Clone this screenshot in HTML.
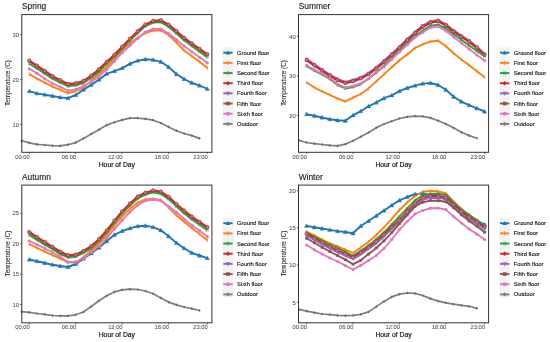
<!DOCTYPE html>
<html><head><meta charset="utf-8"><style>
html,body{margin:0;padding:0;background:#fff;}
svg{display:block;will-change:transform;}
text{font-family:"Liberation Sans",sans-serif;}
.tk{font-size:5.9px;fill:#4d4d4d;stroke:#4d4d4d;stroke-width:0.05px;}
.ax{font-size:6.8px;fill:#111;stroke:#111;stroke-width:0.18px;}
.ti{font-size:8.4px;fill:#111;stroke:#111;stroke-width:0.1px;}
.ay{font-size:7.5px;fill:#1a1a1a;stroke:#1a1a1a;stroke-width:0.05px;}
.lg{font-size:5.8px;fill:#1a1a1a;stroke:#1a1a1a;stroke-width:0.15px;}
</style></head><body>
<svg width="550" height="342" viewBox="0 0 550 342">
<rect width="550" height="342" fill="#fff"/>
<polyline points="29.30,91.20 37.04,93.40 44.78,94.70 52.52,96.00 60.26,97.40 68.00,98.20 75.74,95.00 83.48,89.60 91.22,84.90 98.96,79.70 106.70,73.80 114.44,71.20 122.18,68.10 129.92,63.80 137.66,60.70 145.40,59.30 153.14,59.80 160.88,61.80 168.62,67.00 176.36,74.00 184.10,79.00 191.84,82.80 199.58,85.50 207.32,88.90" fill="none" stroke="#1f77b4" stroke-width="1.9" stroke-linejoin="round"/>
<polyline points="29.30,74.10 37.04,78.70 44.78,82.60 52.52,86.60 60.26,89.80 68.00,93.10 75.74,91.00 83.48,87.60 91.22,80.60 98.96,73.80 106.70,67.20 114.44,59.00 122.18,50.30 129.92,43.50 137.66,37.50 145.40,33.00 153.14,30.50 160.88,30.50 168.62,35.00 176.36,42.50 184.10,50.60 191.84,56.20 199.58,61.70 207.32,68.10" fill="none" stroke="#ff7f0e" stroke-width="1.9" stroke-linejoin="round"/>
<polyline points="29.30,61.50 37.04,66.50 44.78,71.80 52.52,77.00 60.26,81.00 68.00,84.80 75.74,84.10 83.48,81.80 91.22,76.50 98.96,70.30 106.70,62.80 114.44,55.60 122.18,47.60 129.92,39.70 137.66,32.20 145.40,25.30 153.14,21.80 160.88,21.10 168.62,25.60 176.36,32.00 184.10,38.70 191.84,44.30 199.58,49.80 207.32,55.10" fill="none" stroke="#9467bd" stroke-width="1.9" stroke-linejoin="round"/>
<polyline points="29.30,61.00 37.04,66.00 44.78,71.30 52.52,76.50 60.26,80.50 68.00,84.30 75.74,83.60 83.48,81.30 91.22,76.00 98.96,69.80 106.70,62.30 114.44,55.10 122.18,47.10 129.92,39.20 137.66,31.70 145.40,24.80 153.14,21.30 160.88,20.60 168.62,25.10 176.36,31.50 184.10,38.20 191.84,43.80 199.58,49.30 207.32,54.60" fill="none" stroke="#8c564b" stroke-width="1.9" stroke-linejoin="round"/>
<polyline points="29.30,63.70 37.04,68.55 44.78,73.70 52.52,78.75 60.26,82.60 68.00,86.25 75.74,85.40 83.48,83.05 91.22,77.70 98.96,71.45 106.70,63.90 114.44,56.65 122.18,48.60 129.92,40.65 137.66,33.10 145.40,26.15 153.14,22.60 160.88,22.10 168.62,26.80 176.36,33.40 184.10,40.30 191.84,46.10 199.58,51.80 207.32,57.30" fill="none" stroke="#2ca02c" stroke-width="1.9" stroke-linejoin="round"/>
<polyline points="29.30,60.50 37.04,65.50 44.78,70.80 52.52,76.00 60.26,80.00 68.00,83.80 75.74,83.10 83.48,80.80 91.22,75.50 98.96,69.30 106.70,61.80 114.44,54.60 122.18,46.60 129.92,38.70 137.66,31.20 145.40,24.30 153.14,20.80 160.88,20.10 168.62,24.60 176.36,31.00 184.10,37.70 191.84,43.30 199.58,48.80 207.32,54.10" fill="none" stroke="#d62728" stroke-width="1.9" stroke-linejoin="round"/>
<polyline points="29.30,68.80 37.04,73.40 44.78,78.70 52.52,83.30 60.26,86.80 68.00,90.60 75.74,89.40 83.48,86.20 91.22,82.00 98.96,76.40 106.70,69.50 114.44,61.20 122.18,52.70 129.92,45.60 137.66,38.40 145.40,32.00 153.14,29.00 160.88,29.00 168.62,33.50 176.36,39.70 184.10,46.00 191.84,51.80 199.58,57.30 207.32,62.80" fill="none" stroke="#e377c2" stroke-width="1.9" stroke-linejoin="round"/>
<polyline points="21.55,140.80 29.29,142.90 37.03,144.30 44.77,145.00 52.51,145.70 60.25,145.90 67.99,144.70 75.73,142.60 83.47,138.40 91.21,133.90 98.95,129.70 106.69,125.10 114.43,122.30 122.17,119.90 129.91,118.20 137.65,118.20 145.39,118.80 153.13,120.20 160.87,123.00 168.61,126.90 176.35,130.70 184.09,133.50 191.83,135.60 199.57,138.40" fill="none" stroke="#7f7f7f" stroke-width="1.7" stroke-linejoin="round"/>
<path d="M29.30,89.00L31.50,92.85L27.10,92.85Z" fill="#1f77b4" stroke="#1f77b4" stroke-width="0.3"/>
<path d="M37.04,91.20L39.24,95.05L34.84,95.05Z" fill="#1f77b4" stroke="#1f77b4" stroke-width="0.3"/>
<path d="M44.78,92.50L46.98,96.35L42.58,96.35Z" fill="#1f77b4" stroke="#1f77b4" stroke-width="0.3"/>
<path d="M52.52,93.80L54.72,97.65L50.32,97.65Z" fill="#1f77b4" stroke="#1f77b4" stroke-width="0.3"/>
<path d="M60.26,95.20L62.46,99.05L58.06,99.05Z" fill="#1f77b4" stroke="#1f77b4" stroke-width="0.3"/>
<path d="M68.00,96.00L70.20,99.85L65.80,99.85Z" fill="#1f77b4" stroke="#1f77b4" stroke-width="0.3"/>
<path d="M75.74,92.80L77.94,96.65L73.54,96.65Z" fill="#1f77b4" stroke="#1f77b4" stroke-width="0.3"/>
<path d="M83.48,87.40L85.68,91.25L81.28,91.25Z" fill="#1f77b4" stroke="#1f77b4" stroke-width="0.3"/>
<path d="M91.22,82.70L93.42,86.55L89.02,86.55Z" fill="#1f77b4" stroke="#1f77b4" stroke-width="0.3"/>
<path d="M98.96,77.50L101.16,81.35L96.76,81.35Z" fill="#1f77b4" stroke="#1f77b4" stroke-width="0.3"/>
<path d="M106.70,71.60L108.90,75.45L104.50,75.45Z" fill="#1f77b4" stroke="#1f77b4" stroke-width="0.3"/>
<path d="M114.44,69.00L116.64,72.85L112.24,72.85Z" fill="#1f77b4" stroke="#1f77b4" stroke-width="0.3"/>
<path d="M122.18,65.90L124.38,69.75L119.98,69.75Z" fill="#1f77b4" stroke="#1f77b4" stroke-width="0.3"/>
<path d="M129.92,61.60L132.12,65.45L127.72,65.45Z" fill="#1f77b4" stroke="#1f77b4" stroke-width="0.3"/>
<path d="M137.66,58.50L139.86,62.35L135.46,62.35Z" fill="#1f77b4" stroke="#1f77b4" stroke-width="0.3"/>
<path d="M145.40,57.10L147.60,60.95L143.20,60.95Z" fill="#1f77b4" stroke="#1f77b4" stroke-width="0.3"/>
<path d="M153.14,57.60L155.34,61.45L150.94,61.45Z" fill="#1f77b4" stroke="#1f77b4" stroke-width="0.3"/>
<path d="M160.88,59.60L163.08,63.45L158.68,63.45Z" fill="#1f77b4" stroke="#1f77b4" stroke-width="0.3"/>
<path d="M168.62,64.80L170.82,68.65L166.42,68.65Z" fill="#1f77b4" stroke="#1f77b4" stroke-width="0.3"/>
<path d="M176.36,71.80L178.56,75.65L174.16,75.65Z" fill="#1f77b4" stroke="#1f77b4" stroke-width="0.3"/>
<path d="M184.10,76.80L186.30,80.65L181.90,80.65Z" fill="#1f77b4" stroke="#1f77b4" stroke-width="0.3"/>
<path d="M191.84,80.60L194.04,84.45L189.64,84.45Z" fill="#1f77b4" stroke="#1f77b4" stroke-width="0.3"/>
<path d="M199.58,83.30L201.78,87.15L197.38,87.15Z" fill="#1f77b4" stroke="#1f77b4" stroke-width="0.3"/>
<path d="M207.32,86.70L209.52,90.55L205.12,90.55Z" fill="#1f77b4" stroke="#1f77b4" stroke-width="0.3"/>
<path d="M29.30,72.40V75.80" stroke="#ff7f0e" stroke-width="0.8"/>
<path d="M37.04,77.00V80.40" stroke="#ff7f0e" stroke-width="0.8"/>
<path d="M44.78,80.90V84.30" stroke="#ff7f0e" stroke-width="0.8"/>
<path d="M52.52,84.90V88.30" stroke="#ff7f0e" stroke-width="0.8"/>
<path d="M60.26,88.10V91.50" stroke="#ff7f0e" stroke-width="0.8"/>
<path d="M68.00,91.40V94.80" stroke="#ff7f0e" stroke-width="0.8"/>
<path d="M75.74,89.30V92.70" stroke="#ff7f0e" stroke-width="0.8"/>
<path d="M83.48,85.90V89.30" stroke="#ff7f0e" stroke-width="0.8"/>
<path d="M91.22,78.90V82.30" stroke="#ff7f0e" stroke-width="0.8"/>
<path d="M98.96,72.10V75.50" stroke="#ff7f0e" stroke-width="0.8"/>
<path d="M106.70,65.50V68.90" stroke="#ff7f0e" stroke-width="0.8"/>
<path d="M114.44,57.30V60.70" stroke="#ff7f0e" stroke-width="0.8"/>
<path d="M122.18,48.60V52.00" stroke="#ff7f0e" stroke-width="0.8"/>
<path d="M129.92,41.80V45.20" stroke="#ff7f0e" stroke-width="0.8"/>
<path d="M137.66,35.80V39.20" stroke="#ff7f0e" stroke-width="0.8"/>
<path d="M145.40,31.30V34.70" stroke="#ff7f0e" stroke-width="0.8"/>
<path d="M153.14,28.80V32.20" stroke="#ff7f0e" stroke-width="0.8"/>
<path d="M160.88,28.80V32.20" stroke="#ff7f0e" stroke-width="0.8"/>
<path d="M168.62,33.30V36.70" stroke="#ff7f0e" stroke-width="0.8"/>
<path d="M176.36,40.80V44.20" stroke="#ff7f0e" stroke-width="0.8"/>
<path d="M184.10,48.90V52.30" stroke="#ff7f0e" stroke-width="0.8"/>
<path d="M191.84,54.50V57.90" stroke="#ff7f0e" stroke-width="0.8"/>
<path d="M199.58,60.00V63.40" stroke="#ff7f0e" stroke-width="0.8"/>
<path d="M207.32,66.40V69.80" stroke="#ff7f0e" stroke-width="0.8"/>
<path d="M27.50,60.24L31.10,60.24L29.30,63.30Z" fill="#9467bd"/>
<path d="M35.24,65.24L38.84,65.24L37.04,68.30Z" fill="#9467bd"/>
<path d="M42.98,70.54L46.58,70.54L44.78,73.60Z" fill="#9467bd"/>
<path d="M50.72,75.74L54.32,75.74L52.52,78.80Z" fill="#9467bd"/>
<path d="M58.46,79.74L62.06,79.74L60.26,82.80Z" fill="#9467bd"/>
<path d="M66.20,83.54L69.80,83.54L68.00,86.60Z" fill="#9467bd"/>
<path d="M73.94,82.84L77.54,82.84L75.74,85.90Z" fill="#9467bd"/>
<path d="M81.68,80.54L85.28,80.54L83.48,83.60Z" fill="#9467bd"/>
<path d="M89.42,75.24L93.02,75.24L91.22,78.30Z" fill="#9467bd"/>
<path d="M97.16,69.04L100.76,69.04L98.96,72.10Z" fill="#9467bd"/>
<path d="M104.90,61.54L108.50,61.54L106.70,64.60Z" fill="#9467bd"/>
<path d="M112.64,54.34L116.24,54.34L114.44,57.40Z" fill="#9467bd"/>
<path d="M120.38,46.34L123.98,46.34L122.18,49.40Z" fill="#9467bd"/>
<path d="M128.12,38.44L131.72,38.44L129.92,41.50Z" fill="#9467bd"/>
<path d="M135.86,30.94L139.46,30.94L137.66,34.00Z" fill="#9467bd"/>
<path d="M143.60,24.04L147.20,24.04L145.40,27.10Z" fill="#9467bd"/>
<path d="M151.34,20.54L154.94,20.54L153.14,23.60Z" fill="#9467bd"/>
<path d="M159.08,19.84L162.68,19.84L160.88,22.90Z" fill="#9467bd"/>
<path d="M166.82,24.34L170.42,24.34L168.62,27.40Z" fill="#9467bd"/>
<path d="M174.56,30.74L178.16,30.74L176.36,33.80Z" fill="#9467bd"/>
<path d="M182.30,37.44L185.90,37.44L184.10,40.50Z" fill="#9467bd"/>
<path d="M190.04,43.04L193.64,43.04L191.84,46.10Z" fill="#9467bd"/>
<path d="M197.78,48.54L201.38,48.54L199.58,51.60Z" fill="#9467bd"/>
<path d="M205.52,53.84L209.12,53.84L207.32,56.90Z" fill="#9467bd"/>
<rect x="27.90" y="59.60" width="2.8" height="2.8" fill="#8c564b"/>
<rect x="35.64" y="64.60" width="2.8" height="2.8" fill="#8c564b"/>
<rect x="43.38" y="69.90" width="2.8" height="2.8" fill="#8c564b"/>
<rect x="51.12" y="75.10" width="2.8" height="2.8" fill="#8c564b"/>
<rect x="58.86" y="79.10" width="2.8" height="2.8" fill="#8c564b"/>
<rect x="66.60" y="82.90" width="2.8" height="2.8" fill="#8c564b"/>
<rect x="74.34" y="82.20" width="2.8" height="2.8" fill="#8c564b"/>
<rect x="82.08" y="79.90" width="2.8" height="2.8" fill="#8c564b"/>
<rect x="89.82" y="74.60" width="2.8" height="2.8" fill="#8c564b"/>
<rect x="97.56" y="68.40" width="2.8" height="2.8" fill="#8c564b"/>
<rect x="105.30" y="60.90" width="2.8" height="2.8" fill="#8c564b"/>
<rect x="113.04" y="53.70" width="2.8" height="2.8" fill="#8c564b"/>
<rect x="120.78" y="45.70" width="2.8" height="2.8" fill="#8c564b"/>
<rect x="128.52" y="37.80" width="2.8" height="2.8" fill="#8c564b"/>
<rect x="136.26" y="30.30" width="2.8" height="2.8" fill="#8c564b"/>
<rect x="144.00" y="23.40" width="2.8" height="2.8" fill="#8c564b"/>
<rect x="151.74" y="19.90" width="2.8" height="2.8" fill="#8c564b"/>
<rect x="159.48" y="19.20" width="2.8" height="2.8" fill="#8c564b"/>
<rect x="167.22" y="23.70" width="2.8" height="2.8" fill="#8c564b"/>
<rect x="174.96" y="30.10" width="2.8" height="2.8" fill="#8c564b"/>
<rect x="182.70" y="36.80" width="2.8" height="2.8" fill="#8c564b"/>
<rect x="190.44" y="42.40" width="2.8" height="2.8" fill="#8c564b"/>
<rect x="198.18" y="47.90" width="2.8" height="2.8" fill="#8c564b"/>
<rect x="205.92" y="53.20" width="2.8" height="2.8" fill="#8c564b"/>
<path d="M28.50,62.10V65.30M30.10,62.10V65.30" stroke="#2ca02c" stroke-width="0.6"/>
<path d="M36.24,66.95V70.15M37.84,66.95V70.15" stroke="#2ca02c" stroke-width="0.6"/>
<path d="M43.98,72.10V75.30M45.58,72.10V75.30" stroke="#2ca02c" stroke-width="0.6"/>
<path d="M51.72,77.15V80.35M53.32,77.15V80.35" stroke="#2ca02c" stroke-width="0.6"/>
<path d="M59.46,81.00V84.20M61.06,81.00V84.20" stroke="#2ca02c" stroke-width="0.6"/>
<path d="M67.20,84.65V87.85M68.80,84.65V87.85" stroke="#2ca02c" stroke-width="0.6"/>
<path d="M74.94,83.80V87.00M76.54,83.80V87.00" stroke="#2ca02c" stroke-width="0.6"/>
<path d="M82.68,81.45V84.65M84.28,81.45V84.65" stroke="#2ca02c" stroke-width="0.6"/>
<path d="M90.42,76.10V79.30M92.02,76.10V79.30" stroke="#2ca02c" stroke-width="0.6"/>
<path d="M98.16,69.85V73.05M99.76,69.85V73.05" stroke="#2ca02c" stroke-width="0.6"/>
<path d="M105.90,62.30V65.50M107.50,62.30V65.50" stroke="#2ca02c" stroke-width="0.6"/>
<path d="M113.64,55.05V58.25M115.24,55.05V58.25" stroke="#2ca02c" stroke-width="0.6"/>
<path d="M121.38,47.00V50.20M122.98,47.00V50.20" stroke="#2ca02c" stroke-width="0.6"/>
<path d="M129.12,39.05V42.25M130.72,39.05V42.25" stroke="#2ca02c" stroke-width="0.6"/>
<path d="M136.86,31.50V34.70M138.46,31.50V34.70" stroke="#2ca02c" stroke-width="0.6"/>
<path d="M144.60,24.55V27.75M146.20,24.55V27.75" stroke="#2ca02c" stroke-width="0.6"/>
<path d="M152.34,21.00V24.20M153.94,21.00V24.20" stroke="#2ca02c" stroke-width="0.6"/>
<path d="M160.08,20.50V23.70M161.68,20.50V23.70" stroke="#2ca02c" stroke-width="0.6"/>
<path d="M167.82,25.20V28.40M169.42,25.20V28.40" stroke="#2ca02c" stroke-width="0.6"/>
<path d="M175.56,31.80V35.00M177.16,31.80V35.00" stroke="#2ca02c" stroke-width="0.6"/>
<path d="M183.30,38.70V41.90M184.90,38.70V41.90" stroke="#2ca02c" stroke-width="0.6"/>
<path d="M191.04,44.50V47.70M192.64,44.50V47.70" stroke="#2ca02c" stroke-width="0.6"/>
<path d="M198.78,50.20V53.40M200.38,50.20V53.40" stroke="#2ca02c" stroke-width="0.6"/>
<path d="M206.52,55.70V58.90M208.12,55.70V58.90" stroke="#2ca02c" stroke-width="0.6"/>
<circle cx="29.30" cy="60.50" r="1.6" fill="#cf7a8c" stroke="#a8303c" stroke-width="0.8"/>
<circle cx="37.04" cy="65.50" r="1.6" fill="#cf7a8c" stroke="#a8303c" stroke-width="0.8"/>
<circle cx="44.78" cy="70.80" r="1.6" fill="#cf7a8c" stroke="#a8303c" stroke-width="0.8"/>
<circle cx="52.52" cy="76.00" r="1.6" fill="#cf7a8c" stroke="#a8303c" stroke-width="0.8"/>
<circle cx="60.26" cy="80.00" r="1.6" fill="#cf7a8c" stroke="#a8303c" stroke-width="0.8"/>
<circle cx="68.00" cy="83.80" r="1.6" fill="#cf7a8c" stroke="#a8303c" stroke-width="0.8"/>
<circle cx="75.74" cy="83.10" r="1.6" fill="#cf7a8c" stroke="#a8303c" stroke-width="0.8"/>
<circle cx="83.48" cy="80.80" r="1.6" fill="#cf7a8c" stroke="#a8303c" stroke-width="0.8"/>
<circle cx="91.22" cy="75.50" r="1.6" fill="#cf7a8c" stroke="#a8303c" stroke-width="0.8"/>
<circle cx="98.96" cy="69.30" r="1.6" fill="#cf7a8c" stroke="#a8303c" stroke-width="0.8"/>
<circle cx="106.70" cy="61.80" r="1.6" fill="#cf7a8c" stroke="#a8303c" stroke-width="0.8"/>
<circle cx="114.44" cy="54.60" r="1.6" fill="#cf7a8c" stroke="#a8303c" stroke-width="0.8"/>
<circle cx="122.18" cy="46.60" r="1.6" fill="#cf7a8c" stroke="#a8303c" stroke-width="0.8"/>
<circle cx="129.92" cy="38.70" r="1.6" fill="#cf7a8c" stroke="#a8303c" stroke-width="0.8"/>
<circle cx="137.66" cy="31.20" r="1.6" fill="#cf7a8c" stroke="#a8303c" stroke-width="0.8"/>
<circle cx="145.40" cy="24.30" r="1.6" fill="#cf7a8c" stroke="#a8303c" stroke-width="0.8"/>
<circle cx="153.14" cy="20.80" r="1.6" fill="#cf7a8c" stroke="#a8303c" stroke-width="0.8"/>
<circle cx="160.88" cy="20.10" r="1.6" fill="#cf7a8c" stroke="#a8303c" stroke-width="0.8"/>
<circle cx="168.62" cy="24.60" r="1.6" fill="#cf7a8c" stroke="#a8303c" stroke-width="0.8"/>
<circle cx="176.36" cy="31.00" r="1.6" fill="#cf7a8c" stroke="#a8303c" stroke-width="0.8"/>
<circle cx="184.10" cy="37.70" r="1.6" fill="#cf7a8c" stroke="#a8303c" stroke-width="0.8"/>
<circle cx="191.84" cy="43.30" r="1.6" fill="#cf7a8c" stroke="#a8303c" stroke-width="0.8"/>
<circle cx="199.58" cy="48.80" r="1.6" fill="#cf7a8c" stroke="#a8303c" stroke-width="0.8"/>
<circle cx="207.32" cy="54.10" r="1.6" fill="#cf7a8c" stroke="#a8303c" stroke-width="0.8"/>
<circle cx="29.30" cy="68.80" r="1.6" fill="#e377c2"/>
<circle cx="37.04" cy="73.40" r="1.6" fill="#e377c2"/>
<circle cx="44.78" cy="78.70" r="1.6" fill="#e377c2"/>
<circle cx="52.52" cy="83.30" r="1.6" fill="#e377c2"/>
<circle cx="60.26" cy="86.80" r="1.6" fill="#e377c2"/>
<circle cx="68.00" cy="90.60" r="1.6" fill="#e377c2"/>
<circle cx="75.74" cy="89.40" r="1.6" fill="#e377c2"/>
<circle cx="83.48" cy="86.20" r="1.6" fill="#e377c2"/>
<circle cx="91.22" cy="82.00" r="1.6" fill="#e377c2"/>
<circle cx="98.96" cy="76.40" r="1.6" fill="#e377c2"/>
<circle cx="106.70" cy="69.50" r="1.6" fill="#e377c2"/>
<circle cx="114.44" cy="61.20" r="1.6" fill="#e377c2"/>
<circle cx="122.18" cy="52.70" r="1.6" fill="#e377c2"/>
<circle cx="129.92" cy="45.60" r="1.6" fill="#e377c2"/>
<circle cx="137.66" cy="38.40" r="1.6" fill="#e377c2"/>
<circle cx="145.40" cy="32.00" r="1.6" fill="#e377c2"/>
<circle cx="153.14" cy="29.00" r="1.6" fill="#e377c2"/>
<circle cx="160.88" cy="29.00" r="1.6" fill="#e377c2"/>
<circle cx="168.62" cy="33.50" r="1.6" fill="#e377c2"/>
<circle cx="176.36" cy="39.70" r="1.6" fill="#e377c2"/>
<circle cx="184.10" cy="46.00" r="1.6" fill="#e377c2"/>
<circle cx="191.84" cy="51.80" r="1.6" fill="#e377c2"/>
<circle cx="199.58" cy="57.30" r="1.6" fill="#e377c2"/>
<circle cx="207.32" cy="62.80" r="1.6" fill="#e377c2"/>
<path d="M21.55,139.20L22.65,140.80L21.55,142.40L20.45,140.80Z" fill="#6a6a6a"/>
<path d="M29.29,141.30L30.39,142.90L29.29,144.50L28.19,142.90Z" fill="#6a6a6a"/>
<path d="M37.03,142.70L38.13,144.30L37.03,145.90L35.93,144.30Z" fill="#6a6a6a"/>
<path d="M44.77,143.40L45.87,145.00L44.77,146.60L43.67,145.00Z" fill="#6a6a6a"/>
<path d="M52.51,144.10L53.61,145.70L52.51,147.30L51.41,145.70Z" fill="#6a6a6a"/>
<path d="M60.25,144.30L61.35,145.90L60.25,147.50L59.15,145.90Z" fill="#6a6a6a"/>
<path d="M67.99,143.10L69.09,144.70L67.99,146.30L66.89,144.70Z" fill="#6a6a6a"/>
<path d="M75.73,141.00L76.83,142.60L75.73,144.20L74.63,142.60Z" fill="#6a6a6a"/>
<path d="M83.47,136.80L84.57,138.40L83.47,140.00L82.37,138.40Z" fill="#6a6a6a"/>
<path d="M91.21,132.30L92.31,133.90L91.21,135.50L90.11,133.90Z" fill="#6a6a6a"/>
<path d="M98.95,128.10L100.05,129.70L98.95,131.30L97.85,129.70Z" fill="#6a6a6a"/>
<path d="M106.69,123.50L107.79,125.10L106.69,126.70L105.59,125.10Z" fill="#6a6a6a"/>
<path d="M114.43,120.70L115.53,122.30L114.43,123.90L113.33,122.30Z" fill="#6a6a6a"/>
<path d="M122.17,118.30L123.27,119.90L122.17,121.50L121.07,119.90Z" fill="#6a6a6a"/>
<path d="M129.91,116.60L131.01,118.20L129.91,119.80L128.81,118.20Z" fill="#6a6a6a"/>
<path d="M137.65,116.60L138.75,118.20L137.65,119.80L136.55,118.20Z" fill="#6a6a6a"/>
<path d="M145.39,117.20L146.49,118.80L145.39,120.40L144.29,118.80Z" fill="#6a6a6a"/>
<path d="M153.13,118.60L154.23,120.20L153.13,121.80L152.03,120.20Z" fill="#6a6a6a"/>
<path d="M160.87,121.40L161.97,123.00L160.87,124.60L159.77,123.00Z" fill="#6a6a6a"/>
<path d="M168.61,125.30L169.71,126.90L168.61,128.50L167.51,126.90Z" fill="#6a6a6a"/>
<path d="M176.35,129.10L177.45,130.70L176.35,132.30L175.25,130.70Z" fill="#6a6a6a"/>
<path d="M184.09,131.90L185.19,133.50L184.09,135.10L182.99,133.50Z" fill="#6a6a6a"/>
<path d="M191.83,134.00L192.93,135.60L191.83,137.20L190.73,135.60Z" fill="#6a6a6a"/>
<path d="M199.57,136.80L200.67,138.40L199.57,140.00L198.47,138.40Z" fill="#6a6a6a"/>
<rect x="21.80" y="14.60" width="190.10" height="137.70" fill="none" stroke="#333" stroke-width="1"/>
<line x1="20.20" y1="124.30" x2="21.80" y2="124.30" stroke="#333" stroke-width="0.8"/>
<text x="19.10" y="126.50" text-anchor="end" class="tk">10</text>
<line x1="20.20" y1="79.40" x2="21.80" y2="79.40" stroke="#333" stroke-width="0.8"/>
<text x="19.10" y="81.60" text-anchor="end" class="tk">20</text>
<line x1="20.20" y1="34.30" x2="21.80" y2="34.30" stroke="#333" stroke-width="0.8"/>
<text x="19.10" y="36.50" text-anchor="end" class="tk">30</text>
<line x1="29.30" y1="152.30" x2="29.30" y2="153.90" stroke="#333" stroke-width="0.8"/>
<text x="22.50" y="158.90" text-anchor="middle" class="tk" style="font-size:5.75px">00:00</text>
<line x1="75.74" y1="152.30" x2="75.74" y2="153.90" stroke="#333" stroke-width="0.8"/>
<text x="68.94" y="158.90" text-anchor="middle" class="tk" style="font-size:5.75px">06:00</text>
<line x1="122.18" y1="152.30" x2="122.18" y2="153.90" stroke="#333" stroke-width="0.8"/>
<text x="115.38" y="158.90" text-anchor="middle" class="tk" style="font-size:5.75px">12:00</text>
<line x1="168.62" y1="152.30" x2="168.62" y2="153.90" stroke="#333" stroke-width="0.8"/>
<text x="161.82" y="158.90" text-anchor="middle" class="tk" style="font-size:5.75px">18:00</text>
<line x1="207.32" y1="152.30" x2="207.32" y2="153.90" stroke="#333" stroke-width="0.8"/>
<text x="200.52" y="158.90" text-anchor="middle" class="tk" style="font-size:5.75px">23:00</text>
<text x="116.85" y="166.80" text-anchor="middle" class="ax">Hour of Day</text>
<text transform="translate(9.50,83.00) rotate(-90)" text-anchor="middle" class="ay" textLength="45.5" lengthAdjust="spacingAndGlyphs">Temperature (C)</text>
<text x="22.00" y="9.10" class="ti">Spring</text>
<rect x="222.60" y="47.20" width="11" height="79.60" fill="#f2f2f2"/>
<line x1="223.30" y1="52.70" x2="232.60" y2="52.70" stroke="#1f77b4" stroke-width="1.9"/>
<path d="M228.00,50.40L230.30,54.43L225.70,54.43Z" fill="#1f77b4"/>
<text x="237.00" y="54.80" class="lg">Ground floor</text>
<line x1="223.30" y1="62.87" x2="232.60" y2="62.87" stroke="#ff7f0e" stroke-width="1.9"/>
<path d="M228.00,60.66V65.08" stroke="#ff7f0e" stroke-width="0.8"/>
<text x="237.00" y="64.97" class="lg">First floor</text>
<line x1="223.30" y1="73.04" x2="232.60" y2="73.04" stroke="#2ca02c" stroke-width="1.9"/>
<path d="M227.20,70.96V75.12M228.80,70.96V75.12" stroke="#2ca02c" stroke-width="0.6"/>
<text x="237.00" y="75.14" class="lg">Second floor</text>
<line x1="223.30" y1="83.21" x2="232.60" y2="83.21" stroke="#d62728" stroke-width="1.9"/>
<path d="M228.00,80.91L230.30,83.21L228.00,85.51L225.70,83.21Z" fill="#d62728"/>
<text x="237.00" y="85.31" class="lg">Third floor</text>
<line x1="223.30" y1="93.38" x2="232.60" y2="93.38" stroke="#9467bd" stroke-width="1.9"/>
<path d="M225.66,91.74L230.34,91.74L228.00,95.72Z" fill="#9467bd"/>
<text x="237.00" y="95.48" class="lg">Fourth floor</text>
<line x1="223.30" y1="103.55" x2="232.60" y2="103.55" stroke="#8c564b" stroke-width="1.9"/>
<rect x="226.18" y="101.73" width="3.6399999999999997" height="3.6399999999999997" fill="#8c564b"/>
<text x="237.00" y="105.65" class="lg">Fifth floor</text>
<line x1="223.30" y1="113.72" x2="232.60" y2="113.72" stroke="#e377c2" stroke-width="1.9"/>
<circle cx="228.00" cy="113.72" r="2.08" fill="#e377c2"/>
<text x="237.00" y="115.82" class="lg">Sixth floor</text>
<line x1="223.30" y1="123.89" x2="232.60" y2="123.89" stroke="#7f7f7f" stroke-width="1.9"/>
<path d="M228.00,121.79L230.10,123.89L228.00,125.99L225.90,123.89Z" fill="#7f7f7f"/>
<text x="237.00" y="125.99" class="lg">Outdoor</text>
<polyline points="306.60,114.20 314.34,115.80 322.08,117.50 329.82,119.20 337.56,120.30 345.30,120.80 353.04,115.30 360.78,111.20 368.52,106.30 376.26,102.50 384.00,98.20 391.74,95.40 399.48,91.20 407.22,88.00 414.96,85.60 422.70,83.60 430.44,83.00 438.18,85.00 445.92,89.80 453.66,96.80 461.40,101.60 469.14,105.20 476.88,108.30 484.62,111.50" fill="none" stroke="#1f77b4" stroke-width="1.9" stroke-linejoin="round"/>
<polyline points="306.60,82.50 314.34,87.50 322.08,91.30 329.82,94.90 337.56,98.60 345.30,101.40 353.04,97.60 360.78,94.00 368.52,88.40 376.26,81.40 384.00,74.40 391.74,67.30 399.48,60.30 407.22,54.50 414.96,48.00 422.70,44.30 430.44,41.50 438.18,40.70 445.92,46.30 453.66,53.30 461.40,59.50 469.14,65.30 476.88,71.20 484.62,77.30" fill="none" stroke="#ff7f0e" stroke-width="1.9" stroke-linejoin="round"/>
<polyline points="306.60,60.50 314.34,65.80 322.08,71.00 329.82,76.10 337.56,80.40 345.30,83.40 353.04,81.50 360.78,78.80 368.52,74.50 376.26,68.70 384.00,62.20 391.74,55.20 399.48,48.20 407.22,40.50 414.96,33.60 422.70,27.10 430.44,22.90 438.18,21.50 445.92,25.70 453.66,31.90 461.40,37.00 469.14,42.00 476.88,48.20 484.62,55.20" fill="none" stroke="#8c564b" stroke-width="1.9" stroke-linejoin="round"/>
<polyline points="306.60,59.00 314.34,64.30 322.08,69.50 329.82,74.60 337.56,78.90 345.30,81.90 353.04,80.00 360.78,77.30 368.52,73.00 376.26,67.20 384.00,60.70 391.74,53.70 399.48,46.70 407.22,39.00 414.96,32.10 422.70,25.60 430.44,21.40 438.18,20.00 445.92,24.20 453.66,30.40 461.40,35.50 469.14,40.50 476.88,46.70 484.62,53.70" fill="none" stroke="#9467bd" stroke-width="1.9" stroke-linejoin="round"/>
<polyline points="306.60,60.00 314.34,65.30 322.08,70.50 329.82,75.60 337.56,79.90 345.30,82.90 353.04,81.00 360.78,78.30 368.52,74.00 376.26,68.20 384.00,61.70 391.74,54.70 399.48,47.70 407.22,40.00 414.96,33.10 422.70,26.60 430.44,22.40 438.18,21.00 445.92,25.20 453.66,31.40 461.40,36.50 469.14,41.50 476.88,47.70 484.62,54.70" fill="none" stroke="#d62728" stroke-width="1.9" stroke-linejoin="round"/>
<polyline points="306.60,66.10 314.34,70.73 322.08,74.37 329.82,78.90 337.56,84.93 345.30,88.47 353.04,87.00 360.78,84.00 368.52,78.70 376.26,72.25 384.00,65.80 391.74,58.21 399.48,50.61 407.22,43.27 414.96,35.93 422.70,30.79 430.44,25.64 438.18,24.60 445.92,28.42 453.66,34.23 461.40,39.85 469.14,45.47 476.88,51.08 484.62,56.20" fill="none" stroke="#2ca02c" stroke-width="1.9" stroke-linejoin="round"/>
<polyline points="306.60,65.30 314.34,69.90 322.08,73.50 329.82,78.00 337.56,84.00 345.30,87.50 353.04,86.00 360.78,83.50 368.52,78.70 376.26,72.75 384.00,66.80 391.74,59.35 399.48,51.90 407.22,44.70 414.96,37.50 422.70,32.50 430.44,27.50 438.18,26.60 445.92,30.80 453.66,37.00 461.40,43.00 469.14,49.00 476.88,55.00 484.62,60.50" fill="none" stroke="#e377c2" stroke-width="1.9" stroke-linejoin="round"/>
<polyline points="298.90,140.30 306.64,142.50 314.38,143.70 322.12,144.50 329.86,145.30 337.60,145.80 345.34,144.20 353.08,140.80 360.82,136.70 368.56,132.50 376.30,127.70 384.04,124.00 391.78,121.20 399.52,118.50 407.26,116.80 415.00,116.10 422.74,116.40 430.48,117.90 438.22,120.70 445.96,124.00 453.70,127.90 461.44,132.30 469.18,135.60 476.92,138.20" fill="none" stroke="#7f7f7f" stroke-width="1.7" stroke-linejoin="round"/>
<path d="M306.60,112.00L308.80,115.85L304.40,115.85Z" fill="#1f77b4" stroke="#1f77b4" stroke-width="0.3"/>
<path d="M314.34,113.60L316.54,117.45L312.14,117.45Z" fill="#1f77b4" stroke="#1f77b4" stroke-width="0.3"/>
<path d="M322.08,115.30L324.28,119.15L319.88,119.15Z" fill="#1f77b4" stroke="#1f77b4" stroke-width="0.3"/>
<path d="M329.82,117.00L332.02,120.85L327.62,120.85Z" fill="#1f77b4" stroke="#1f77b4" stroke-width="0.3"/>
<path d="M337.56,118.10L339.76,121.95L335.36,121.95Z" fill="#1f77b4" stroke="#1f77b4" stroke-width="0.3"/>
<path d="M345.30,118.60L347.50,122.45L343.10,122.45Z" fill="#1f77b4" stroke="#1f77b4" stroke-width="0.3"/>
<path d="M353.04,113.10L355.24,116.95L350.84,116.95Z" fill="#1f77b4" stroke="#1f77b4" stroke-width="0.3"/>
<path d="M360.78,109.00L362.98,112.85L358.58,112.85Z" fill="#1f77b4" stroke="#1f77b4" stroke-width="0.3"/>
<path d="M368.52,104.10L370.72,107.95L366.32,107.95Z" fill="#1f77b4" stroke="#1f77b4" stroke-width="0.3"/>
<path d="M376.26,100.30L378.46,104.15L374.06,104.15Z" fill="#1f77b4" stroke="#1f77b4" stroke-width="0.3"/>
<path d="M384.00,96.00L386.20,99.85L381.80,99.85Z" fill="#1f77b4" stroke="#1f77b4" stroke-width="0.3"/>
<path d="M391.74,93.20L393.94,97.05L389.54,97.05Z" fill="#1f77b4" stroke="#1f77b4" stroke-width="0.3"/>
<path d="M399.48,89.00L401.68,92.85L397.28,92.85Z" fill="#1f77b4" stroke="#1f77b4" stroke-width="0.3"/>
<path d="M407.22,85.80L409.42,89.65L405.02,89.65Z" fill="#1f77b4" stroke="#1f77b4" stroke-width="0.3"/>
<path d="M414.96,83.40L417.16,87.25L412.76,87.25Z" fill="#1f77b4" stroke="#1f77b4" stroke-width="0.3"/>
<path d="M422.70,81.40L424.90,85.25L420.50,85.25Z" fill="#1f77b4" stroke="#1f77b4" stroke-width="0.3"/>
<path d="M430.44,80.80L432.64,84.65L428.24,84.65Z" fill="#1f77b4" stroke="#1f77b4" stroke-width="0.3"/>
<path d="M438.18,82.80L440.38,86.65L435.98,86.65Z" fill="#1f77b4" stroke="#1f77b4" stroke-width="0.3"/>
<path d="M445.92,87.60L448.12,91.45L443.72,91.45Z" fill="#1f77b4" stroke="#1f77b4" stroke-width="0.3"/>
<path d="M453.66,94.60L455.86,98.45L451.46,98.45Z" fill="#1f77b4" stroke="#1f77b4" stroke-width="0.3"/>
<path d="M461.40,99.40L463.60,103.25L459.20,103.25Z" fill="#1f77b4" stroke="#1f77b4" stroke-width="0.3"/>
<path d="M469.14,103.00L471.34,106.85L466.94,106.85Z" fill="#1f77b4" stroke="#1f77b4" stroke-width="0.3"/>
<path d="M476.88,106.10L479.08,109.95L474.68,109.95Z" fill="#1f77b4" stroke="#1f77b4" stroke-width="0.3"/>
<path d="M484.62,109.30L486.82,113.15L482.42,113.15Z" fill="#1f77b4" stroke="#1f77b4" stroke-width="0.3"/>
<path d="M306.60,80.80V84.20" stroke="#ff7f0e" stroke-width="0.8"/>
<path d="M314.34,85.80V89.20" stroke="#ff7f0e" stroke-width="0.8"/>
<path d="M322.08,89.60V93.00" stroke="#ff7f0e" stroke-width="0.8"/>
<path d="M329.82,93.20V96.60" stroke="#ff7f0e" stroke-width="0.8"/>
<path d="M337.56,96.90V100.30" stroke="#ff7f0e" stroke-width="0.8"/>
<path d="M345.30,99.70V103.10" stroke="#ff7f0e" stroke-width="0.8"/>
<path d="M353.04,95.90V99.30" stroke="#ff7f0e" stroke-width="0.8"/>
<path d="M360.78,92.30V95.70" stroke="#ff7f0e" stroke-width="0.8"/>
<path d="M368.52,86.70V90.10" stroke="#ff7f0e" stroke-width="0.8"/>
<path d="M376.26,79.70V83.10" stroke="#ff7f0e" stroke-width="0.8"/>
<path d="M384.00,72.70V76.10" stroke="#ff7f0e" stroke-width="0.8"/>
<path d="M391.74,65.60V69.00" stroke="#ff7f0e" stroke-width="0.8"/>
<path d="M399.48,58.60V62.00" stroke="#ff7f0e" stroke-width="0.8"/>
<path d="M407.22,52.80V56.20" stroke="#ff7f0e" stroke-width="0.8"/>
<path d="M414.96,46.30V49.70" stroke="#ff7f0e" stroke-width="0.8"/>
<path d="M422.70,42.60V46.00" stroke="#ff7f0e" stroke-width="0.8"/>
<path d="M430.44,39.80V43.20" stroke="#ff7f0e" stroke-width="0.8"/>
<path d="M438.18,39.00V42.40" stroke="#ff7f0e" stroke-width="0.8"/>
<path d="M445.92,44.60V48.00" stroke="#ff7f0e" stroke-width="0.8"/>
<path d="M453.66,51.60V55.00" stroke="#ff7f0e" stroke-width="0.8"/>
<path d="M461.40,57.80V61.20" stroke="#ff7f0e" stroke-width="0.8"/>
<path d="M469.14,63.60V67.00" stroke="#ff7f0e" stroke-width="0.8"/>
<path d="M476.88,69.50V72.90" stroke="#ff7f0e" stroke-width="0.8"/>
<path d="M484.62,75.60V79.00" stroke="#ff7f0e" stroke-width="0.8"/>
<rect x="305.20" y="59.10" width="2.8" height="2.8" fill="#8c564b"/>
<rect x="312.94" y="64.40" width="2.8" height="2.8" fill="#8c564b"/>
<rect x="320.68" y="69.60" width="2.8" height="2.8" fill="#8c564b"/>
<rect x="328.42" y="74.70" width="2.8" height="2.8" fill="#8c564b"/>
<rect x="336.16" y="79.00" width="2.8" height="2.8" fill="#8c564b"/>
<rect x="343.90" y="82.00" width="2.8" height="2.8" fill="#8c564b"/>
<rect x="351.64" y="80.10" width="2.8" height="2.8" fill="#8c564b"/>
<rect x="359.38" y="77.40" width="2.8" height="2.8" fill="#8c564b"/>
<rect x="367.12" y="73.10" width="2.8" height="2.8" fill="#8c564b"/>
<rect x="374.86" y="67.30" width="2.8" height="2.8" fill="#8c564b"/>
<rect x="382.60" y="60.80" width="2.8" height="2.8" fill="#8c564b"/>
<rect x="390.34" y="53.80" width="2.8" height="2.8" fill="#8c564b"/>
<rect x="398.08" y="46.80" width="2.8" height="2.8" fill="#8c564b"/>
<rect x="405.82" y="39.10" width="2.8" height="2.8" fill="#8c564b"/>
<rect x="413.56" y="32.20" width="2.8" height="2.8" fill="#8c564b"/>
<rect x="421.30" y="25.70" width="2.8" height="2.8" fill="#8c564b"/>
<rect x="429.04" y="21.50" width="2.8" height="2.8" fill="#8c564b"/>
<rect x="436.78" y="20.10" width="2.8" height="2.8" fill="#8c564b"/>
<rect x="444.52" y="24.30" width="2.8" height="2.8" fill="#8c564b"/>
<rect x="452.26" y="30.50" width="2.8" height="2.8" fill="#8c564b"/>
<rect x="460.00" y="35.60" width="2.8" height="2.8" fill="#8c564b"/>
<rect x="467.74" y="40.60" width="2.8" height="2.8" fill="#8c564b"/>
<rect x="475.48" y="46.80" width="2.8" height="2.8" fill="#8c564b"/>
<rect x="483.22" y="53.80" width="2.8" height="2.8" fill="#8c564b"/>
<path d="M304.80,57.74L308.40,57.74L306.60,60.80Z" fill="#9467bd"/>
<path d="M312.54,63.04L316.14,63.04L314.34,66.10Z" fill="#9467bd"/>
<path d="M320.28,68.24L323.88,68.24L322.08,71.30Z" fill="#9467bd"/>
<path d="M328.02,73.34L331.62,73.34L329.82,76.40Z" fill="#9467bd"/>
<path d="M335.76,77.64L339.36,77.64L337.56,80.70Z" fill="#9467bd"/>
<path d="M343.50,80.64L347.10,80.64L345.30,83.70Z" fill="#9467bd"/>
<path d="M351.24,78.74L354.84,78.74L353.04,81.80Z" fill="#9467bd"/>
<path d="M358.98,76.04L362.58,76.04L360.78,79.10Z" fill="#9467bd"/>
<path d="M366.72,71.74L370.32,71.74L368.52,74.80Z" fill="#9467bd"/>
<path d="M374.46,65.94L378.06,65.94L376.26,69.00Z" fill="#9467bd"/>
<path d="M382.20,59.44L385.80,59.44L384.00,62.50Z" fill="#9467bd"/>
<path d="M389.94,52.44L393.54,52.44L391.74,55.50Z" fill="#9467bd"/>
<path d="M397.68,45.44L401.28,45.44L399.48,48.50Z" fill="#9467bd"/>
<path d="M405.42,37.74L409.02,37.74L407.22,40.80Z" fill="#9467bd"/>
<path d="M413.16,30.84L416.76,30.84L414.96,33.90Z" fill="#9467bd"/>
<path d="M420.90,24.34L424.50,24.34L422.70,27.40Z" fill="#9467bd"/>
<path d="M428.64,20.14L432.24,20.14L430.44,23.20Z" fill="#9467bd"/>
<path d="M436.38,18.74L439.98,18.74L438.18,21.80Z" fill="#9467bd"/>
<path d="M444.12,22.94L447.72,22.94L445.92,26.00Z" fill="#9467bd"/>
<path d="M451.86,29.14L455.46,29.14L453.66,32.20Z" fill="#9467bd"/>
<path d="M459.60,34.24L463.20,34.24L461.40,37.30Z" fill="#9467bd"/>
<path d="M467.34,39.24L470.94,39.24L469.14,42.30Z" fill="#9467bd"/>
<path d="M475.08,45.44L478.68,45.44L476.88,48.50Z" fill="#9467bd"/>
<path d="M482.82,52.44L486.42,52.44L484.62,55.50Z" fill="#9467bd"/>
<circle cx="306.60" cy="60.00" r="1.6" fill="#cf7a8c" stroke="#a8303c" stroke-width="0.8"/>
<circle cx="314.34" cy="65.30" r="1.6" fill="#cf7a8c" stroke="#a8303c" stroke-width="0.8"/>
<circle cx="322.08" cy="70.50" r="1.6" fill="#cf7a8c" stroke="#a8303c" stroke-width="0.8"/>
<circle cx="329.82" cy="75.60" r="1.6" fill="#cf7a8c" stroke="#a8303c" stroke-width="0.8"/>
<circle cx="337.56" cy="79.90" r="1.6" fill="#cf7a8c" stroke="#a8303c" stroke-width="0.8"/>
<circle cx="345.30" cy="82.90" r="1.6" fill="#cf7a8c" stroke="#a8303c" stroke-width="0.8"/>
<circle cx="353.04" cy="81.00" r="1.6" fill="#cf7a8c" stroke="#a8303c" stroke-width="0.8"/>
<circle cx="360.78" cy="78.30" r="1.6" fill="#cf7a8c" stroke="#a8303c" stroke-width="0.8"/>
<circle cx="368.52" cy="74.00" r="1.6" fill="#cf7a8c" stroke="#a8303c" stroke-width="0.8"/>
<circle cx="376.26" cy="68.20" r="1.6" fill="#cf7a8c" stroke="#a8303c" stroke-width="0.8"/>
<circle cx="384.00" cy="61.70" r="1.6" fill="#cf7a8c" stroke="#a8303c" stroke-width="0.8"/>
<circle cx="391.74" cy="54.70" r="1.6" fill="#cf7a8c" stroke="#a8303c" stroke-width="0.8"/>
<circle cx="399.48" cy="47.70" r="1.6" fill="#cf7a8c" stroke="#a8303c" stroke-width="0.8"/>
<circle cx="407.22" cy="40.00" r="1.6" fill="#cf7a8c" stroke="#a8303c" stroke-width="0.8"/>
<circle cx="414.96" cy="33.10" r="1.6" fill="#cf7a8c" stroke="#a8303c" stroke-width="0.8"/>
<circle cx="422.70" cy="26.60" r="1.6" fill="#cf7a8c" stroke="#a8303c" stroke-width="0.8"/>
<circle cx="430.44" cy="22.40" r="1.6" fill="#cf7a8c" stroke="#a8303c" stroke-width="0.8"/>
<circle cx="438.18" cy="21.00" r="1.6" fill="#cf7a8c" stroke="#a8303c" stroke-width="0.8"/>
<circle cx="445.92" cy="25.20" r="1.6" fill="#cf7a8c" stroke="#a8303c" stroke-width="0.8"/>
<circle cx="453.66" cy="31.40" r="1.6" fill="#cf7a8c" stroke="#a8303c" stroke-width="0.8"/>
<circle cx="461.40" cy="36.50" r="1.6" fill="#cf7a8c" stroke="#a8303c" stroke-width="0.8"/>
<circle cx="469.14" cy="41.50" r="1.6" fill="#cf7a8c" stroke="#a8303c" stroke-width="0.8"/>
<circle cx="476.88" cy="47.70" r="1.6" fill="#cf7a8c" stroke="#a8303c" stroke-width="0.8"/>
<circle cx="484.62" cy="54.70" r="1.6" fill="#cf7a8c" stroke="#a8303c" stroke-width="0.8"/>
<path d="M305.80,64.50V67.70M307.40,64.50V67.70" stroke="#2ca02c" stroke-width="0.6"/>
<path d="M313.54,69.13V72.33M315.14,69.13V72.33" stroke="#2ca02c" stroke-width="0.6"/>
<path d="M321.28,72.77V75.97M322.88,72.77V75.97" stroke="#2ca02c" stroke-width="0.6"/>
<path d="M329.02,77.30V80.50M330.62,77.30V80.50" stroke="#2ca02c" stroke-width="0.6"/>
<path d="M336.76,83.33V86.53M338.36,83.33V86.53" stroke="#2ca02c" stroke-width="0.6"/>
<path d="M344.50,86.87V90.07M346.10,86.87V90.07" stroke="#2ca02c" stroke-width="0.6"/>
<path d="M352.24,85.40V88.60M353.84,85.40V88.60" stroke="#2ca02c" stroke-width="0.6"/>
<path d="M359.98,82.40V85.60M361.58,82.40V85.60" stroke="#2ca02c" stroke-width="0.6"/>
<path d="M367.72,77.10V80.30M369.32,77.10V80.30" stroke="#2ca02c" stroke-width="0.6"/>
<path d="M375.46,70.65V73.85M377.06,70.65V73.85" stroke="#2ca02c" stroke-width="0.6"/>
<path d="M383.20,64.20V67.40M384.80,64.20V67.40" stroke="#2ca02c" stroke-width="0.6"/>
<path d="M390.94,56.61V59.81M392.54,56.61V59.81" stroke="#2ca02c" stroke-width="0.6"/>
<path d="M398.68,49.01V52.21M400.28,49.01V52.21" stroke="#2ca02c" stroke-width="0.6"/>
<path d="M406.42,41.67V44.87M408.02,41.67V44.87" stroke="#2ca02c" stroke-width="0.6"/>
<path d="M414.16,34.33V37.53M415.76,34.33V37.53" stroke="#2ca02c" stroke-width="0.6"/>
<path d="M421.90,29.19V32.39M423.50,29.19V32.39" stroke="#2ca02c" stroke-width="0.6"/>
<path d="M429.64,24.04V27.24M431.24,24.04V27.24" stroke="#2ca02c" stroke-width="0.6"/>
<path d="M437.38,23.00V26.20M438.98,23.00V26.20" stroke="#2ca02c" stroke-width="0.6"/>
<path d="M445.12,26.82V30.02M446.72,26.82V30.02" stroke="#2ca02c" stroke-width="0.6"/>
<path d="M452.86,32.63V35.83M454.46,32.63V35.83" stroke="#2ca02c" stroke-width="0.6"/>
<path d="M460.60,38.25V41.45M462.20,38.25V41.45" stroke="#2ca02c" stroke-width="0.6"/>
<path d="M468.34,43.87V47.07M469.94,43.87V47.07" stroke="#2ca02c" stroke-width="0.6"/>
<path d="M476.08,49.48V52.68M477.68,49.48V52.68" stroke="#2ca02c" stroke-width="0.6"/>
<path d="M483.82,54.60V57.80M485.42,54.60V57.80" stroke="#2ca02c" stroke-width="0.6"/>
<circle cx="306.60" cy="65.30" r="1.6" fill="#e377c2"/>
<circle cx="314.34" cy="69.90" r="1.6" fill="#e377c2"/>
<circle cx="322.08" cy="73.50" r="1.6" fill="#e377c2"/>
<circle cx="329.82" cy="78.00" r="1.6" fill="#e377c2"/>
<circle cx="337.56" cy="84.00" r="1.6" fill="#e377c2"/>
<circle cx="345.30" cy="87.50" r="1.6" fill="#e377c2"/>
<circle cx="353.04" cy="86.00" r="1.6" fill="#e377c2"/>
<circle cx="360.78" cy="83.50" r="1.6" fill="#e377c2"/>
<circle cx="368.52" cy="78.70" r="1.6" fill="#e377c2"/>
<circle cx="376.26" cy="72.75" r="1.6" fill="#e377c2"/>
<circle cx="384.00" cy="66.80" r="1.6" fill="#e377c2"/>
<circle cx="391.74" cy="59.35" r="1.6" fill="#e377c2"/>
<circle cx="399.48" cy="51.90" r="1.6" fill="#e377c2"/>
<circle cx="407.22" cy="44.70" r="1.6" fill="#e377c2"/>
<circle cx="414.96" cy="37.50" r="1.6" fill="#e377c2"/>
<circle cx="422.70" cy="32.50" r="1.6" fill="#e377c2"/>
<circle cx="430.44" cy="27.50" r="1.6" fill="#e377c2"/>
<circle cx="438.18" cy="26.60" r="1.6" fill="#e377c2"/>
<circle cx="445.92" cy="30.80" r="1.6" fill="#e377c2"/>
<circle cx="453.66" cy="37.00" r="1.6" fill="#e377c2"/>
<circle cx="461.40" cy="43.00" r="1.6" fill="#e377c2"/>
<circle cx="469.14" cy="49.00" r="1.6" fill="#e377c2"/>
<circle cx="476.88" cy="55.00" r="1.6" fill="#e377c2"/>
<circle cx="484.62" cy="60.50" r="1.6" fill="#e377c2"/>
<path d="M298.90,138.70L300.00,140.30L298.90,141.90L297.80,140.30Z" fill="#6a6a6a"/>
<path d="M306.64,140.90L307.74,142.50L306.64,144.10L305.54,142.50Z" fill="#6a6a6a"/>
<path d="M314.38,142.10L315.48,143.70L314.38,145.30L313.28,143.70Z" fill="#6a6a6a"/>
<path d="M322.12,142.90L323.22,144.50L322.12,146.10L321.02,144.50Z" fill="#6a6a6a"/>
<path d="M329.86,143.70L330.96,145.30L329.86,146.90L328.76,145.30Z" fill="#6a6a6a"/>
<path d="M337.60,144.20L338.70,145.80L337.60,147.40L336.50,145.80Z" fill="#6a6a6a"/>
<path d="M345.34,142.60L346.44,144.20L345.34,145.80L344.24,144.20Z" fill="#6a6a6a"/>
<path d="M353.08,139.20L354.18,140.80L353.08,142.40L351.98,140.80Z" fill="#6a6a6a"/>
<path d="M360.82,135.10L361.92,136.70L360.82,138.30L359.72,136.70Z" fill="#6a6a6a"/>
<path d="M368.56,130.90L369.66,132.50L368.56,134.10L367.46,132.50Z" fill="#6a6a6a"/>
<path d="M376.30,126.10L377.40,127.70L376.30,129.30L375.20,127.70Z" fill="#6a6a6a"/>
<path d="M384.04,122.40L385.14,124.00L384.04,125.60L382.94,124.00Z" fill="#6a6a6a"/>
<path d="M391.78,119.60L392.88,121.20L391.78,122.80L390.68,121.20Z" fill="#6a6a6a"/>
<path d="M399.52,116.90L400.62,118.50L399.52,120.10L398.42,118.50Z" fill="#6a6a6a"/>
<path d="M407.26,115.20L408.36,116.80L407.26,118.40L406.16,116.80Z" fill="#6a6a6a"/>
<path d="M415.00,114.50L416.10,116.10L415.00,117.70L413.90,116.10Z" fill="#6a6a6a"/>
<path d="M422.74,114.80L423.84,116.40L422.74,118.00L421.64,116.40Z" fill="#6a6a6a"/>
<path d="M430.48,116.30L431.58,117.90L430.48,119.50L429.38,117.90Z" fill="#6a6a6a"/>
<path d="M438.22,119.10L439.32,120.70L438.22,122.30L437.12,120.70Z" fill="#6a6a6a"/>
<path d="M445.96,122.40L447.06,124.00L445.96,125.60L444.86,124.00Z" fill="#6a6a6a"/>
<path d="M453.70,126.30L454.80,127.90L453.70,129.50L452.60,127.90Z" fill="#6a6a6a"/>
<path d="M461.44,130.70L462.54,132.30L461.44,133.90L460.34,132.30Z" fill="#6a6a6a"/>
<path d="M469.18,134.00L470.28,135.60L469.18,137.20L468.08,135.60Z" fill="#6a6a6a"/>
<path d="M476.92,136.60L478.02,138.20L476.92,139.80L475.82,138.20Z" fill="#6a6a6a"/>
<rect x="298.50" y="14.60" width="190.10" height="137.70" fill="none" stroke="#333" stroke-width="1"/>
<line x1="296.90" y1="115.30" x2="298.50" y2="115.30" stroke="#333" stroke-width="0.8"/>
<text x="295.80" y="117.50" text-anchor="end" class="tk">20</text>
<line x1="296.90" y1="75.80" x2="298.50" y2="75.80" stroke="#333" stroke-width="0.8"/>
<text x="295.80" y="78.00" text-anchor="end" class="tk">30</text>
<line x1="296.90" y1="36.30" x2="298.50" y2="36.30" stroke="#333" stroke-width="0.8"/>
<text x="295.80" y="38.50" text-anchor="end" class="tk">40</text>
<line x1="306.60" y1="152.30" x2="306.60" y2="153.90" stroke="#333" stroke-width="0.8"/>
<text x="299.80" y="158.90" text-anchor="middle" class="tk" style="font-size:5.75px">00:00</text>
<line x1="353.04" y1="152.30" x2="353.04" y2="153.90" stroke="#333" stroke-width="0.8"/>
<text x="346.24" y="158.90" text-anchor="middle" class="tk" style="font-size:5.75px">06:00</text>
<line x1="399.48" y1="152.30" x2="399.48" y2="153.90" stroke="#333" stroke-width="0.8"/>
<text x="392.68" y="158.90" text-anchor="middle" class="tk" style="font-size:5.75px">12:00</text>
<line x1="445.92" y1="152.30" x2="445.92" y2="153.90" stroke="#333" stroke-width="0.8"/>
<text x="439.12" y="158.90" text-anchor="middle" class="tk" style="font-size:5.75px">18:00</text>
<line x1="484.62" y1="152.30" x2="484.62" y2="153.90" stroke="#333" stroke-width="0.8"/>
<text x="477.82" y="158.90" text-anchor="middle" class="tk" style="font-size:5.75px">23:00</text>
<text x="393.55" y="166.80" text-anchor="middle" class="ax">Hour of Day</text>
<text transform="translate(286.20,83.00) rotate(-90)" text-anchor="middle" class="ay" textLength="45.5" lengthAdjust="spacingAndGlyphs">Temperature (C)</text>
<text x="298.70" y="9.10" class="ti">Summer</text>
<rect x="499.30" y="47.20" width="11" height="79.60" fill="#f2f2f2"/>
<line x1="500.00" y1="52.70" x2="509.30" y2="52.70" stroke="#1f77b4" stroke-width="1.9"/>
<path d="M504.70,50.40L507.00,54.43L502.40,54.43Z" fill="#1f77b4"/>
<text x="513.70" y="54.80" class="lg">Ground floor</text>
<line x1="500.00" y1="62.87" x2="509.30" y2="62.87" stroke="#ff7f0e" stroke-width="1.9"/>
<path d="M504.70,60.66V65.08" stroke="#ff7f0e" stroke-width="0.8"/>
<text x="513.70" y="64.97" class="lg">First floor</text>
<line x1="500.00" y1="73.04" x2="509.30" y2="73.04" stroke="#2ca02c" stroke-width="1.9"/>
<path d="M503.90,70.96V75.12M505.50,70.96V75.12" stroke="#2ca02c" stroke-width="0.6"/>
<text x="513.70" y="75.14" class="lg">Second floor</text>
<line x1="500.00" y1="83.21" x2="509.30" y2="83.21" stroke="#d62728" stroke-width="1.9"/>
<path d="M504.70,80.91L507.00,83.21L504.70,85.51L502.40,83.21Z" fill="#d62728"/>
<text x="513.70" y="85.31" class="lg">Third floor</text>
<line x1="500.00" y1="93.38" x2="509.30" y2="93.38" stroke="#9467bd" stroke-width="1.9"/>
<path d="M502.36,91.74L507.04,91.74L504.70,95.72Z" fill="#9467bd"/>
<text x="513.70" y="95.48" class="lg">Fourth floor</text>
<line x1="500.00" y1="103.55" x2="509.30" y2="103.55" stroke="#8c564b" stroke-width="1.9"/>
<rect x="502.88" y="101.73" width="3.6399999999999997" height="3.6399999999999997" fill="#8c564b"/>
<text x="513.70" y="105.65" class="lg">Fifth floor</text>
<line x1="500.00" y1="113.72" x2="509.30" y2="113.72" stroke="#e377c2" stroke-width="1.9"/>
<circle cx="504.70" cy="113.72" r="2.08" fill="#e377c2"/>
<text x="513.70" y="115.82" class="lg">Sixth floor</text>
<line x1="500.00" y1="123.89" x2="509.30" y2="123.89" stroke="#7f7f7f" stroke-width="1.9"/>
<path d="M504.70,121.79L506.80,123.89L504.70,125.99L502.60,123.89Z" fill="#7f7f7f"/>
<text x="513.70" y="125.99" class="lg">Outdoor</text>
<polyline points="29.30,259.50 37.04,261.20 44.78,263.00 52.52,264.70 60.26,266.00 68.00,267.00 75.74,264.00 83.48,258.70 91.22,253.40 98.96,247.60 106.70,241.20 114.44,234.80 122.18,231.00 129.92,228.30 137.66,226.20 145.40,225.80 153.14,227.10 160.88,230.30 168.62,236.30 176.36,242.90 184.10,248.20 191.84,252.90 199.58,255.50 207.32,258.20" fill="none" stroke="#1f77b4" stroke-width="1.9" stroke-linejoin="round"/>
<polyline points="29.30,244.20 37.04,248.00 44.78,251.60 52.52,255.10 60.26,258.60 68.00,262.30 75.74,262.60 83.48,257.30 91.22,250.30 98.96,243.50 106.70,235.30 114.44,225.50 122.18,216.60 129.92,208.70 137.66,202.60 145.40,199.50 153.14,198.70 160.88,200.30 168.62,207.40 176.36,215.30 184.10,221.80 191.84,227.97 199.58,234.13 207.32,240.30" fill="none" stroke="#ff7f0e" stroke-width="1.9" stroke-linejoin="round"/>
<polyline points="29.30,232.90 37.04,238.00 44.78,242.90 52.52,247.70 60.26,252.60 68.00,256.10 75.74,255.50 83.48,251.80 91.22,247.00 98.96,240.00 106.70,231.30 114.44,221.50 122.18,212.30 129.92,204.40 137.66,197.40 145.40,193.60 153.14,191.30 160.88,192.60 168.62,197.80 176.36,204.90 184.10,211.50 191.84,217.60 199.58,222.80 207.32,228.10" fill="none" stroke="#9467bd" stroke-width="1.9" stroke-linejoin="round"/>
<polyline points="29.30,232.40 37.04,237.50 44.78,242.40 52.52,247.20 60.26,252.10 68.00,255.60 75.74,255.00 83.48,251.30 91.22,246.50 98.96,239.50 106.70,230.80 114.44,221.00 122.18,211.80 129.92,203.90 137.66,196.90 145.40,193.10 153.14,190.80 160.88,192.10 168.62,197.30 176.36,204.40 184.10,211.00 191.84,217.10 199.58,222.30 207.32,227.60" fill="none" stroke="#8c564b" stroke-width="1.9" stroke-linejoin="round"/>
<polyline points="29.30,234.90 37.04,239.87 44.78,244.63 52.52,249.30 60.26,254.07 68.00,257.43 75.74,256.70 83.48,252.98 91.22,248.16 98.96,241.14 106.70,232.42 114.44,222.60 122.18,213.38 129.92,205.46 137.66,198.44 145.40,194.62 153.14,192.30 160.88,193.77 168.62,199.14 176.36,206.41 184.10,213.19 191.84,219.46 199.58,224.83 207.32,230.30" fill="none" stroke="#2ca02c" stroke-width="1.9" stroke-linejoin="round"/>
<polyline points="29.30,231.90 37.04,237.00 44.78,241.90 52.52,246.70 60.26,251.60 68.00,255.10 75.74,254.50 83.48,250.80 91.22,246.00 98.96,239.00 106.70,230.30 114.44,220.50 122.18,211.30 129.92,203.40 137.66,196.40 145.40,192.60 153.14,190.30 160.88,191.60 168.62,196.80 176.36,203.90 184.10,210.50 191.84,216.60 199.58,221.80 207.32,227.10" fill="none" stroke="#d62728" stroke-width="1.9" stroke-linejoin="round"/>
<polyline points="29.30,241.00 37.04,244.60 44.78,248.40 52.52,252.50 60.26,256.80 68.00,262.10 75.74,261.80 83.48,258.50 91.22,252.30 98.96,246.30 106.70,238.30 114.44,229.00 122.18,220.30 129.92,212.00 137.66,205.30 145.40,200.80 153.14,199.50 160.88,200.80 168.62,206.60 176.36,212.00 184.10,219.00 191.84,225.20 199.58,230.80 207.32,236.50" fill="none" stroke="#e377c2" stroke-width="1.9" stroke-linejoin="round"/>
<polyline points="21.55,311.70 29.29,312.30 37.03,313.50 44.77,314.40 52.51,315.50 60.25,315.90 67.99,315.80 75.73,314.80 83.47,312.00 91.21,306.50 98.95,300.80 106.69,295.80 114.43,291.90 122.17,289.90 129.91,289.20 137.65,289.50 145.39,291.00 153.13,293.70 160.87,297.90 168.61,302.10 176.35,304.90 184.09,307.00 191.83,308.70 199.57,310.50" fill="none" stroke="#7f7f7f" stroke-width="1.7" stroke-linejoin="round"/>
<path d="M29.30,257.30L31.50,261.15L27.10,261.15Z" fill="#1f77b4" stroke="#1f77b4" stroke-width="0.3"/>
<path d="M37.04,259.00L39.24,262.85L34.84,262.85Z" fill="#1f77b4" stroke="#1f77b4" stroke-width="0.3"/>
<path d="M44.78,260.80L46.98,264.65L42.58,264.65Z" fill="#1f77b4" stroke="#1f77b4" stroke-width="0.3"/>
<path d="M52.52,262.50L54.72,266.35L50.32,266.35Z" fill="#1f77b4" stroke="#1f77b4" stroke-width="0.3"/>
<path d="M60.26,263.80L62.46,267.65L58.06,267.65Z" fill="#1f77b4" stroke="#1f77b4" stroke-width="0.3"/>
<path d="M68.00,264.80L70.20,268.65L65.80,268.65Z" fill="#1f77b4" stroke="#1f77b4" stroke-width="0.3"/>
<path d="M75.74,261.80L77.94,265.65L73.54,265.65Z" fill="#1f77b4" stroke="#1f77b4" stroke-width="0.3"/>
<path d="M83.48,256.50L85.68,260.35L81.28,260.35Z" fill="#1f77b4" stroke="#1f77b4" stroke-width="0.3"/>
<path d="M91.22,251.20L93.42,255.05L89.02,255.05Z" fill="#1f77b4" stroke="#1f77b4" stroke-width="0.3"/>
<path d="M98.96,245.40L101.16,249.25L96.76,249.25Z" fill="#1f77b4" stroke="#1f77b4" stroke-width="0.3"/>
<path d="M106.70,239.00L108.90,242.85L104.50,242.85Z" fill="#1f77b4" stroke="#1f77b4" stroke-width="0.3"/>
<path d="M114.44,232.60L116.64,236.45L112.24,236.45Z" fill="#1f77b4" stroke="#1f77b4" stroke-width="0.3"/>
<path d="M122.18,228.80L124.38,232.65L119.98,232.65Z" fill="#1f77b4" stroke="#1f77b4" stroke-width="0.3"/>
<path d="M129.92,226.10L132.12,229.95L127.72,229.95Z" fill="#1f77b4" stroke="#1f77b4" stroke-width="0.3"/>
<path d="M137.66,224.00L139.86,227.85L135.46,227.85Z" fill="#1f77b4" stroke="#1f77b4" stroke-width="0.3"/>
<path d="M145.40,223.60L147.60,227.45L143.20,227.45Z" fill="#1f77b4" stroke="#1f77b4" stroke-width="0.3"/>
<path d="M153.14,224.90L155.34,228.75L150.94,228.75Z" fill="#1f77b4" stroke="#1f77b4" stroke-width="0.3"/>
<path d="M160.88,228.10L163.08,231.95L158.68,231.95Z" fill="#1f77b4" stroke="#1f77b4" stroke-width="0.3"/>
<path d="M168.62,234.10L170.82,237.95L166.42,237.95Z" fill="#1f77b4" stroke="#1f77b4" stroke-width="0.3"/>
<path d="M176.36,240.70L178.56,244.55L174.16,244.55Z" fill="#1f77b4" stroke="#1f77b4" stroke-width="0.3"/>
<path d="M184.10,246.00L186.30,249.85L181.90,249.85Z" fill="#1f77b4" stroke="#1f77b4" stroke-width="0.3"/>
<path d="M191.84,250.70L194.04,254.55L189.64,254.55Z" fill="#1f77b4" stroke="#1f77b4" stroke-width="0.3"/>
<path d="M199.58,253.30L201.78,257.15L197.38,257.15Z" fill="#1f77b4" stroke="#1f77b4" stroke-width="0.3"/>
<path d="M207.32,256.00L209.52,259.85L205.12,259.85Z" fill="#1f77b4" stroke="#1f77b4" stroke-width="0.3"/>
<path d="M29.30,242.50V245.90" stroke="#ff7f0e" stroke-width="0.8"/>
<path d="M37.04,246.30V249.70" stroke="#ff7f0e" stroke-width="0.8"/>
<path d="M44.78,249.90V253.30" stroke="#ff7f0e" stroke-width="0.8"/>
<path d="M52.52,253.40V256.80" stroke="#ff7f0e" stroke-width="0.8"/>
<path d="M60.26,256.90V260.30" stroke="#ff7f0e" stroke-width="0.8"/>
<path d="M68.00,260.60V264.00" stroke="#ff7f0e" stroke-width="0.8"/>
<path d="M75.74,260.90V264.30" stroke="#ff7f0e" stroke-width="0.8"/>
<path d="M83.48,255.60V259.00" stroke="#ff7f0e" stroke-width="0.8"/>
<path d="M91.22,248.60V252.00" stroke="#ff7f0e" stroke-width="0.8"/>
<path d="M98.96,241.80V245.20" stroke="#ff7f0e" stroke-width="0.8"/>
<path d="M106.70,233.60V237.00" stroke="#ff7f0e" stroke-width="0.8"/>
<path d="M114.44,223.80V227.20" stroke="#ff7f0e" stroke-width="0.8"/>
<path d="M122.18,214.90V218.30" stroke="#ff7f0e" stroke-width="0.8"/>
<path d="M129.92,207.00V210.40" stroke="#ff7f0e" stroke-width="0.8"/>
<path d="M137.66,200.90V204.30" stroke="#ff7f0e" stroke-width="0.8"/>
<path d="M145.40,197.80V201.20" stroke="#ff7f0e" stroke-width="0.8"/>
<path d="M153.14,197.00V200.40" stroke="#ff7f0e" stroke-width="0.8"/>
<path d="M160.88,198.60V202.00" stroke="#ff7f0e" stroke-width="0.8"/>
<path d="M168.62,205.70V209.10" stroke="#ff7f0e" stroke-width="0.8"/>
<path d="M176.36,213.60V217.00" stroke="#ff7f0e" stroke-width="0.8"/>
<path d="M184.10,220.10V223.50" stroke="#ff7f0e" stroke-width="0.8"/>
<path d="M191.84,226.27V229.67" stroke="#ff7f0e" stroke-width="0.8"/>
<path d="M199.58,232.43V235.83" stroke="#ff7f0e" stroke-width="0.8"/>
<path d="M207.32,238.60V242.00" stroke="#ff7f0e" stroke-width="0.8"/>
<path d="M27.50,231.64L31.10,231.64L29.30,234.70Z" fill="#9467bd"/>
<path d="M35.24,236.74L38.84,236.74L37.04,239.80Z" fill="#9467bd"/>
<path d="M42.98,241.64L46.58,241.64L44.78,244.70Z" fill="#9467bd"/>
<path d="M50.72,246.44L54.32,246.44L52.52,249.50Z" fill="#9467bd"/>
<path d="M58.46,251.34L62.06,251.34L60.26,254.40Z" fill="#9467bd"/>
<path d="M66.20,254.84L69.80,254.84L68.00,257.90Z" fill="#9467bd"/>
<path d="M73.94,254.24L77.54,254.24L75.74,257.30Z" fill="#9467bd"/>
<path d="M81.68,250.54L85.28,250.54L83.48,253.60Z" fill="#9467bd"/>
<path d="M89.42,245.74L93.02,245.74L91.22,248.80Z" fill="#9467bd"/>
<path d="M97.16,238.74L100.76,238.74L98.96,241.80Z" fill="#9467bd"/>
<path d="M104.90,230.04L108.50,230.04L106.70,233.10Z" fill="#9467bd"/>
<path d="M112.64,220.24L116.24,220.24L114.44,223.30Z" fill="#9467bd"/>
<path d="M120.38,211.04L123.98,211.04L122.18,214.10Z" fill="#9467bd"/>
<path d="M128.12,203.14L131.72,203.14L129.92,206.20Z" fill="#9467bd"/>
<path d="M135.86,196.14L139.46,196.14L137.66,199.20Z" fill="#9467bd"/>
<path d="M143.60,192.34L147.20,192.34L145.40,195.40Z" fill="#9467bd"/>
<path d="M151.34,190.04L154.94,190.04L153.14,193.10Z" fill="#9467bd"/>
<path d="M159.08,191.34L162.68,191.34L160.88,194.40Z" fill="#9467bd"/>
<path d="M166.82,196.54L170.42,196.54L168.62,199.60Z" fill="#9467bd"/>
<path d="M174.56,203.64L178.16,203.64L176.36,206.70Z" fill="#9467bd"/>
<path d="M182.30,210.24L185.90,210.24L184.10,213.30Z" fill="#9467bd"/>
<path d="M190.04,216.34L193.64,216.34L191.84,219.40Z" fill="#9467bd"/>
<path d="M197.78,221.54L201.38,221.54L199.58,224.60Z" fill="#9467bd"/>
<path d="M205.52,226.84L209.12,226.84L207.32,229.90Z" fill="#9467bd"/>
<rect x="27.90" y="231.00" width="2.8" height="2.8" fill="#8c564b"/>
<rect x="35.64" y="236.10" width="2.8" height="2.8" fill="#8c564b"/>
<rect x="43.38" y="241.00" width="2.8" height="2.8" fill="#8c564b"/>
<rect x="51.12" y="245.80" width="2.8" height="2.8" fill="#8c564b"/>
<rect x="58.86" y="250.70" width="2.8" height="2.8" fill="#8c564b"/>
<rect x="66.60" y="254.20" width="2.8" height="2.8" fill="#8c564b"/>
<rect x="74.34" y="253.60" width="2.8" height="2.8" fill="#8c564b"/>
<rect x="82.08" y="249.90" width="2.8" height="2.8" fill="#8c564b"/>
<rect x="89.82" y="245.10" width="2.8" height="2.8" fill="#8c564b"/>
<rect x="97.56" y="238.10" width="2.8" height="2.8" fill="#8c564b"/>
<rect x="105.30" y="229.40" width="2.8" height="2.8" fill="#8c564b"/>
<rect x="113.04" y="219.60" width="2.8" height="2.8" fill="#8c564b"/>
<rect x="120.78" y="210.40" width="2.8" height="2.8" fill="#8c564b"/>
<rect x="128.52" y="202.50" width="2.8" height="2.8" fill="#8c564b"/>
<rect x="136.26" y="195.50" width="2.8" height="2.8" fill="#8c564b"/>
<rect x="144.00" y="191.70" width="2.8" height="2.8" fill="#8c564b"/>
<rect x="151.74" y="189.40" width="2.8" height="2.8" fill="#8c564b"/>
<rect x="159.48" y="190.70" width="2.8" height="2.8" fill="#8c564b"/>
<rect x="167.22" y="195.90" width="2.8" height="2.8" fill="#8c564b"/>
<rect x="174.96" y="203.00" width="2.8" height="2.8" fill="#8c564b"/>
<rect x="182.70" y="209.60" width="2.8" height="2.8" fill="#8c564b"/>
<rect x="190.44" y="215.70" width="2.8" height="2.8" fill="#8c564b"/>
<rect x="198.18" y="220.90" width="2.8" height="2.8" fill="#8c564b"/>
<rect x="205.92" y="226.20" width="2.8" height="2.8" fill="#8c564b"/>
<path d="M28.50,233.30V236.50M30.10,233.30V236.50" stroke="#2ca02c" stroke-width="0.6"/>
<path d="M36.24,238.27V241.47M37.84,238.27V241.47" stroke="#2ca02c" stroke-width="0.6"/>
<path d="M43.98,243.03V246.23M45.58,243.03V246.23" stroke="#2ca02c" stroke-width="0.6"/>
<path d="M51.72,247.70V250.90M53.32,247.70V250.90" stroke="#2ca02c" stroke-width="0.6"/>
<path d="M59.46,252.47V255.67M61.06,252.47V255.67" stroke="#2ca02c" stroke-width="0.6"/>
<path d="M67.20,255.83V259.03M68.80,255.83V259.03" stroke="#2ca02c" stroke-width="0.6"/>
<path d="M74.94,255.10V258.30M76.54,255.10V258.30" stroke="#2ca02c" stroke-width="0.6"/>
<path d="M82.68,251.38V254.58M84.28,251.38V254.58" stroke="#2ca02c" stroke-width="0.6"/>
<path d="M90.42,246.56V249.76M92.02,246.56V249.76" stroke="#2ca02c" stroke-width="0.6"/>
<path d="M98.16,239.54V242.74M99.76,239.54V242.74" stroke="#2ca02c" stroke-width="0.6"/>
<path d="M105.90,230.82V234.02M107.50,230.82V234.02" stroke="#2ca02c" stroke-width="0.6"/>
<path d="M113.64,221.00V224.20M115.24,221.00V224.20" stroke="#2ca02c" stroke-width="0.6"/>
<path d="M121.38,211.78V214.98M122.98,211.78V214.98" stroke="#2ca02c" stroke-width="0.6"/>
<path d="M129.12,203.86V207.06M130.72,203.86V207.06" stroke="#2ca02c" stroke-width="0.6"/>
<path d="M136.86,196.84V200.04M138.46,196.84V200.04" stroke="#2ca02c" stroke-width="0.6"/>
<path d="M144.60,193.02V196.22M146.20,193.02V196.22" stroke="#2ca02c" stroke-width="0.6"/>
<path d="M152.34,190.70V193.90M153.94,190.70V193.90" stroke="#2ca02c" stroke-width="0.6"/>
<path d="M160.08,192.17V195.37M161.68,192.17V195.37" stroke="#2ca02c" stroke-width="0.6"/>
<path d="M167.82,197.54V200.74M169.42,197.54V200.74" stroke="#2ca02c" stroke-width="0.6"/>
<path d="M175.56,204.81V208.01M177.16,204.81V208.01" stroke="#2ca02c" stroke-width="0.6"/>
<path d="M183.30,211.59V214.79M184.90,211.59V214.79" stroke="#2ca02c" stroke-width="0.6"/>
<path d="M191.04,217.86V221.06M192.64,217.86V221.06" stroke="#2ca02c" stroke-width="0.6"/>
<path d="M198.78,223.23V226.43M200.38,223.23V226.43" stroke="#2ca02c" stroke-width="0.6"/>
<path d="M206.52,228.70V231.90M208.12,228.70V231.90" stroke="#2ca02c" stroke-width="0.6"/>
<circle cx="29.30" cy="231.90" r="1.6" fill="#cf7a8c" stroke="#a8303c" stroke-width="0.8"/>
<circle cx="37.04" cy="237.00" r="1.6" fill="#cf7a8c" stroke="#a8303c" stroke-width="0.8"/>
<circle cx="44.78" cy="241.90" r="1.6" fill="#cf7a8c" stroke="#a8303c" stroke-width="0.8"/>
<circle cx="52.52" cy="246.70" r="1.6" fill="#cf7a8c" stroke="#a8303c" stroke-width="0.8"/>
<circle cx="60.26" cy="251.60" r="1.6" fill="#cf7a8c" stroke="#a8303c" stroke-width="0.8"/>
<circle cx="68.00" cy="255.10" r="1.6" fill="#cf7a8c" stroke="#a8303c" stroke-width="0.8"/>
<circle cx="75.74" cy="254.50" r="1.6" fill="#cf7a8c" stroke="#a8303c" stroke-width="0.8"/>
<circle cx="83.48" cy="250.80" r="1.6" fill="#cf7a8c" stroke="#a8303c" stroke-width="0.8"/>
<circle cx="91.22" cy="246.00" r="1.6" fill="#cf7a8c" stroke="#a8303c" stroke-width="0.8"/>
<circle cx="98.96" cy="239.00" r="1.6" fill="#cf7a8c" stroke="#a8303c" stroke-width="0.8"/>
<circle cx="106.70" cy="230.30" r="1.6" fill="#cf7a8c" stroke="#a8303c" stroke-width="0.8"/>
<circle cx="114.44" cy="220.50" r="1.6" fill="#cf7a8c" stroke="#a8303c" stroke-width="0.8"/>
<circle cx="122.18" cy="211.30" r="1.6" fill="#cf7a8c" stroke="#a8303c" stroke-width="0.8"/>
<circle cx="129.92" cy="203.40" r="1.6" fill="#cf7a8c" stroke="#a8303c" stroke-width="0.8"/>
<circle cx="137.66" cy="196.40" r="1.6" fill="#cf7a8c" stroke="#a8303c" stroke-width="0.8"/>
<circle cx="145.40" cy="192.60" r="1.6" fill="#cf7a8c" stroke="#a8303c" stroke-width="0.8"/>
<circle cx="153.14" cy="190.30" r="1.6" fill="#cf7a8c" stroke="#a8303c" stroke-width="0.8"/>
<circle cx="160.88" cy="191.60" r="1.6" fill="#cf7a8c" stroke="#a8303c" stroke-width="0.8"/>
<circle cx="168.62" cy="196.80" r="1.6" fill="#cf7a8c" stroke="#a8303c" stroke-width="0.8"/>
<circle cx="176.36" cy="203.90" r="1.6" fill="#cf7a8c" stroke="#a8303c" stroke-width="0.8"/>
<circle cx="184.10" cy="210.50" r="1.6" fill="#cf7a8c" stroke="#a8303c" stroke-width="0.8"/>
<circle cx="191.84" cy="216.60" r="1.6" fill="#cf7a8c" stroke="#a8303c" stroke-width="0.8"/>
<circle cx="199.58" cy="221.80" r="1.6" fill="#cf7a8c" stroke="#a8303c" stroke-width="0.8"/>
<circle cx="207.32" cy="227.10" r="1.6" fill="#cf7a8c" stroke="#a8303c" stroke-width="0.8"/>
<circle cx="29.30" cy="241.00" r="1.6" fill="#e377c2"/>
<circle cx="37.04" cy="244.60" r="1.6" fill="#e377c2"/>
<circle cx="44.78" cy="248.40" r="1.6" fill="#e377c2"/>
<circle cx="52.52" cy="252.50" r="1.6" fill="#e377c2"/>
<circle cx="60.26" cy="256.80" r="1.6" fill="#e377c2"/>
<circle cx="68.00" cy="262.10" r="1.6" fill="#e377c2"/>
<circle cx="75.74" cy="261.80" r="1.6" fill="#e377c2"/>
<circle cx="83.48" cy="258.50" r="1.6" fill="#e377c2"/>
<circle cx="91.22" cy="252.30" r="1.6" fill="#e377c2"/>
<circle cx="98.96" cy="246.30" r="1.6" fill="#e377c2"/>
<circle cx="106.70" cy="238.30" r="1.6" fill="#e377c2"/>
<circle cx="114.44" cy="229.00" r="1.6" fill="#e377c2"/>
<circle cx="122.18" cy="220.30" r="1.6" fill="#e377c2"/>
<circle cx="129.92" cy="212.00" r="1.6" fill="#e377c2"/>
<circle cx="137.66" cy="205.30" r="1.6" fill="#e377c2"/>
<circle cx="145.40" cy="200.80" r="1.6" fill="#e377c2"/>
<circle cx="153.14" cy="199.50" r="1.6" fill="#e377c2"/>
<circle cx="160.88" cy="200.80" r="1.6" fill="#e377c2"/>
<circle cx="168.62" cy="206.60" r="1.6" fill="#e377c2"/>
<circle cx="176.36" cy="212.00" r="1.6" fill="#e377c2"/>
<circle cx="184.10" cy="219.00" r="1.6" fill="#e377c2"/>
<circle cx="191.84" cy="225.20" r="1.6" fill="#e377c2"/>
<circle cx="199.58" cy="230.80" r="1.6" fill="#e377c2"/>
<circle cx="207.32" cy="236.50" r="1.6" fill="#e377c2"/>
<path d="M21.55,310.10L22.65,311.70L21.55,313.30L20.45,311.70Z" fill="#6a6a6a"/>
<path d="M29.29,310.70L30.39,312.30L29.29,313.90L28.19,312.30Z" fill="#6a6a6a"/>
<path d="M37.03,311.90L38.13,313.50L37.03,315.10L35.93,313.50Z" fill="#6a6a6a"/>
<path d="M44.77,312.80L45.87,314.40L44.77,316.00L43.67,314.40Z" fill="#6a6a6a"/>
<path d="M52.51,313.90L53.61,315.50L52.51,317.10L51.41,315.50Z" fill="#6a6a6a"/>
<path d="M60.25,314.30L61.35,315.90L60.25,317.50L59.15,315.90Z" fill="#6a6a6a"/>
<path d="M67.99,314.20L69.09,315.80L67.99,317.40L66.89,315.80Z" fill="#6a6a6a"/>
<path d="M75.73,313.20L76.83,314.80L75.73,316.40L74.63,314.80Z" fill="#6a6a6a"/>
<path d="M83.47,310.40L84.57,312.00L83.47,313.60L82.37,312.00Z" fill="#6a6a6a"/>
<path d="M91.21,304.90L92.31,306.50L91.21,308.10L90.11,306.50Z" fill="#6a6a6a"/>
<path d="M98.95,299.20L100.05,300.80L98.95,302.40L97.85,300.80Z" fill="#6a6a6a"/>
<path d="M106.69,294.20L107.79,295.80L106.69,297.40L105.59,295.80Z" fill="#6a6a6a"/>
<path d="M114.43,290.30L115.53,291.90L114.43,293.50L113.33,291.90Z" fill="#6a6a6a"/>
<path d="M122.17,288.30L123.27,289.90L122.17,291.50L121.07,289.90Z" fill="#6a6a6a"/>
<path d="M129.91,287.60L131.01,289.20L129.91,290.80L128.81,289.20Z" fill="#6a6a6a"/>
<path d="M137.65,287.90L138.75,289.50L137.65,291.10L136.55,289.50Z" fill="#6a6a6a"/>
<path d="M145.39,289.40L146.49,291.00L145.39,292.60L144.29,291.00Z" fill="#6a6a6a"/>
<path d="M153.13,292.10L154.23,293.70L153.13,295.30L152.03,293.70Z" fill="#6a6a6a"/>
<path d="M160.87,296.30L161.97,297.90L160.87,299.50L159.77,297.90Z" fill="#6a6a6a"/>
<path d="M168.61,300.50L169.71,302.10L168.61,303.70L167.51,302.10Z" fill="#6a6a6a"/>
<path d="M176.35,303.30L177.45,304.90L176.35,306.50L175.25,304.90Z" fill="#6a6a6a"/>
<path d="M184.09,305.40L185.19,307.00L184.09,308.60L182.99,307.00Z" fill="#6a6a6a"/>
<path d="M191.83,307.10L192.93,308.70L191.83,310.30L190.73,308.70Z" fill="#6a6a6a"/>
<path d="M199.57,308.90L200.67,310.50L199.57,312.10L198.47,310.50Z" fill="#6a6a6a"/>
<rect x="21.80" y="185.10" width="190.10" height="137.70" fill="none" stroke="#333" stroke-width="1"/>
<line x1="20.20" y1="304.50" x2="21.80" y2="304.50" stroke="#333" stroke-width="0.8"/>
<text x="19.10" y="306.70" text-anchor="end" class="tk">10</text>
<line x1="20.20" y1="274.00" x2="21.80" y2="274.00" stroke="#333" stroke-width="0.8"/>
<text x="19.10" y="276.20" text-anchor="end" class="tk">15</text>
<line x1="20.20" y1="243.40" x2="21.80" y2="243.40" stroke="#333" stroke-width="0.8"/>
<text x="19.10" y="245.60" text-anchor="end" class="tk">20</text>
<line x1="20.20" y1="213.20" x2="21.80" y2="213.20" stroke="#333" stroke-width="0.8"/>
<text x="19.10" y="215.40" text-anchor="end" class="tk">25</text>
<line x1="29.30" y1="322.80" x2="29.30" y2="324.40" stroke="#333" stroke-width="0.8"/>
<text x="22.50" y="329.40" text-anchor="middle" class="tk" style="font-size:5.75px">00:00</text>
<line x1="75.74" y1="322.80" x2="75.74" y2="324.40" stroke="#333" stroke-width="0.8"/>
<text x="68.94" y="329.40" text-anchor="middle" class="tk" style="font-size:5.75px">06:00</text>
<line x1="122.18" y1="322.80" x2="122.18" y2="324.40" stroke="#333" stroke-width="0.8"/>
<text x="115.38" y="329.40" text-anchor="middle" class="tk" style="font-size:5.75px">12:00</text>
<line x1="168.62" y1="322.80" x2="168.62" y2="324.40" stroke="#333" stroke-width="0.8"/>
<text x="161.82" y="329.40" text-anchor="middle" class="tk" style="font-size:5.75px">18:00</text>
<line x1="207.32" y1="322.80" x2="207.32" y2="324.40" stroke="#333" stroke-width="0.8"/>
<text x="200.52" y="329.40" text-anchor="middle" class="tk" style="font-size:5.75px">23:00</text>
<text x="116.85" y="337.30" text-anchor="middle" class="ax">Hour of Day</text>
<text transform="translate(9.50,253.50) rotate(-90)" text-anchor="middle" class="ay" textLength="45.5" lengthAdjust="spacingAndGlyphs">Temperature (C)</text>
<text x="22.00" y="179.60" class="ti">Autumn</text>
<rect x="222.60" y="217.70" width="11" height="79.60" fill="#f2f2f2"/>
<line x1="223.30" y1="223.20" x2="232.60" y2="223.20" stroke="#1f77b4" stroke-width="1.9"/>
<path d="M228.00,220.90L230.30,224.92L225.70,224.92Z" fill="#1f77b4"/>
<text x="237.00" y="225.30" class="lg">Ground floor</text>
<line x1="223.30" y1="233.37" x2="232.60" y2="233.37" stroke="#ff7f0e" stroke-width="1.9"/>
<path d="M228.00,231.16V235.58" stroke="#ff7f0e" stroke-width="0.8"/>
<text x="237.00" y="235.47" class="lg">First floor</text>
<line x1="223.30" y1="243.54" x2="232.60" y2="243.54" stroke="#2ca02c" stroke-width="1.9"/>
<path d="M227.20,241.46V245.62M228.80,241.46V245.62" stroke="#2ca02c" stroke-width="0.6"/>
<text x="237.00" y="245.64" class="lg">Second floor</text>
<line x1="223.30" y1="253.71" x2="232.60" y2="253.71" stroke="#d62728" stroke-width="1.9"/>
<path d="M228.00,251.41L230.30,253.71L228.00,256.01L225.70,253.71Z" fill="#d62728"/>
<text x="237.00" y="255.81" class="lg">Third floor</text>
<line x1="223.30" y1="263.88" x2="232.60" y2="263.88" stroke="#9467bd" stroke-width="1.9"/>
<path d="M225.66,262.24L230.34,262.24L228.00,266.22Z" fill="#9467bd"/>
<text x="237.00" y="265.98" class="lg">Fourth floor</text>
<line x1="223.30" y1="274.05" x2="232.60" y2="274.05" stroke="#8c564b" stroke-width="1.9"/>
<rect x="226.18" y="272.23" width="3.6399999999999997" height="3.6399999999999997" fill="#8c564b"/>
<text x="237.00" y="276.15" class="lg">Fifth floor</text>
<line x1="223.30" y1="284.22" x2="232.60" y2="284.22" stroke="#e377c2" stroke-width="1.9"/>
<circle cx="228.00" cy="284.22" r="2.08" fill="#e377c2"/>
<text x="237.00" y="286.32" class="lg">Sixth floor</text>
<line x1="223.30" y1="294.39" x2="232.60" y2="294.39" stroke="#7f7f7f" stroke-width="1.9"/>
<path d="M228.00,292.29L230.10,294.39L228.00,296.49L225.90,294.39Z" fill="#7f7f7f"/>
<text x="237.00" y="296.49" class="lg">Outdoor</text>
<polyline points="306.60,225.90 314.34,227.30 322.08,228.50 329.82,229.90 337.56,231.10 345.30,232.00 353.04,233.30 360.78,226.00 368.52,221.00 376.26,215.80 384.00,210.60 391.74,205.30 399.48,200.40 407.22,197.00 414.96,194.20 422.70,193.50 430.44,195.30 438.18,196.60 445.92,198.20 453.66,204.80 461.40,211.30 469.14,216.60 476.88,221.00 484.62,224.50" fill="none" stroke="#1f77b4" stroke-width="1.9" stroke-linejoin="round"/>
<polyline points="306.60,231.50 314.34,235.50 322.08,239.50 329.82,243.30 337.56,246.50 345.30,249.60 353.04,253.00 360.78,247.50 368.52,241.80 376.26,235.00 384.00,227.30 391.74,218.80 399.48,210.00 407.22,202.50 414.96,196.00 422.70,191.80 430.44,191.00 438.18,191.30 445.92,193.50 453.66,201.60 461.40,208.90 469.14,215.20 476.88,220.50 484.62,226.20" fill="none" stroke="#ff7f0e" stroke-width="1.9" stroke-linejoin="round"/>
<polyline points="306.60,232.50 314.34,236.60 322.08,240.80 329.82,244.50 337.56,248.00 345.30,251.80 353.04,255.80 360.78,250.80 368.52,245.50 376.26,239.30 384.00,232.30 391.74,224.50 399.48,216.40 407.22,208.40 414.96,200.40 422.70,195.50 430.44,194.00 438.18,193.80 445.92,194.90 453.66,202.50 461.40,209.60 469.14,214.80 476.88,220.10 484.62,225.40" fill="none" stroke="#2ca02c" stroke-width="1.9" stroke-linejoin="round"/>
<polyline points="306.60,233.80 314.34,238.20 322.08,242.50 329.82,246.50 337.56,250.30 345.30,253.80 353.04,257.30 360.78,252.50 368.52,247.20 376.26,241.50 384.00,234.70 391.74,227.00 399.48,220.00 407.22,211.30 414.96,203.30 422.70,197.90 430.44,196.00 438.18,196.00 445.92,197.00 453.66,204.50 461.40,211.20 469.14,217.20 476.88,221.80 484.62,227.10" fill="none" stroke="#d62728" stroke-width="1.9" stroke-linejoin="round"/>
<polyline points="306.60,235.60 314.34,240.01 322.08,244.32 329.82,248.33 337.56,252.13 345.30,255.64 353.04,259.15 360.78,254.36 368.52,249.07 376.26,243.38 384.00,236.59 391.74,228.90 399.48,221.90 407.22,213.21 414.96,205.22 422.70,199.83 430.44,197.94 438.18,197.95 445.92,198.96 453.66,206.47 461.40,213.17 469.14,219.18 476.88,223.79 484.62,229.10" fill="none" stroke="#9467bd" stroke-width="1.9" stroke-linejoin="round"/>
<polyline points="306.60,238.20 314.34,242.80 322.08,247.30 329.82,251.50 337.56,255.50 345.30,259.60 353.04,264.20 360.78,260.30 368.52,254.10 376.26,248.00 384.00,240.80 391.74,232.60 399.48,223.70 407.22,215.00 414.96,206.50 422.70,202.20 430.44,200.60 438.18,200.80 445.92,201.80 453.66,207.80 461.40,214.80 469.14,221.00 476.88,226.20 484.62,232.30" fill="none" stroke="#8c564b" stroke-width="1.9" stroke-linejoin="round"/>
<polyline points="306.60,245.00 314.34,249.80 322.08,254.00 329.82,258.00 337.56,261.50 345.30,265.60 353.04,269.50 360.78,265.40 368.52,260.50 376.26,255.50 384.00,248.50 391.74,239.50 399.48,229.60 407.22,221.50 414.96,214.00 422.70,210.50 430.44,208.20 438.18,208.00 445.92,209.60 453.66,216.60 461.40,223.00 469.14,229.00 476.88,234.10 484.62,239.60" fill="none" stroke="#e377c2" stroke-width="1.9" stroke-linejoin="round"/>
<polyline points="298.90,309.40 306.64,311.20 314.38,312.60 322.12,314.00 329.86,314.70 337.60,315.40 345.34,315.70 353.08,315.40 360.82,314.30 368.56,311.90 376.30,306.60 384.04,301.40 391.78,296.90 399.52,294.10 407.26,293.00 415.00,293.40 422.74,295.50 430.48,298.60 438.22,301.10 445.96,302.80 453.70,304.20 461.44,305.30 469.18,306.30 476.92,308.40" fill="none" stroke="#7f7f7f" stroke-width="1.7" stroke-linejoin="round"/>
<path d="M306.60,223.70L308.80,227.55L304.40,227.55Z" fill="#1f77b4" stroke="#1f77b4" stroke-width="0.3"/>
<path d="M314.34,225.10L316.54,228.95L312.14,228.95Z" fill="#1f77b4" stroke="#1f77b4" stroke-width="0.3"/>
<path d="M322.08,226.30L324.28,230.15L319.88,230.15Z" fill="#1f77b4" stroke="#1f77b4" stroke-width="0.3"/>
<path d="M329.82,227.70L332.02,231.55L327.62,231.55Z" fill="#1f77b4" stroke="#1f77b4" stroke-width="0.3"/>
<path d="M337.56,228.90L339.76,232.75L335.36,232.75Z" fill="#1f77b4" stroke="#1f77b4" stroke-width="0.3"/>
<path d="M345.30,229.80L347.50,233.65L343.10,233.65Z" fill="#1f77b4" stroke="#1f77b4" stroke-width="0.3"/>
<path d="M353.04,231.10L355.24,234.95L350.84,234.95Z" fill="#1f77b4" stroke="#1f77b4" stroke-width="0.3"/>
<path d="M360.78,223.80L362.98,227.65L358.58,227.65Z" fill="#1f77b4" stroke="#1f77b4" stroke-width="0.3"/>
<path d="M368.52,218.80L370.72,222.65L366.32,222.65Z" fill="#1f77b4" stroke="#1f77b4" stroke-width="0.3"/>
<path d="M376.26,213.60L378.46,217.45L374.06,217.45Z" fill="#1f77b4" stroke="#1f77b4" stroke-width="0.3"/>
<path d="M384.00,208.40L386.20,212.25L381.80,212.25Z" fill="#1f77b4" stroke="#1f77b4" stroke-width="0.3"/>
<path d="M391.74,203.10L393.94,206.95L389.54,206.95Z" fill="#1f77b4" stroke="#1f77b4" stroke-width="0.3"/>
<path d="M399.48,198.20L401.68,202.05L397.28,202.05Z" fill="#1f77b4" stroke="#1f77b4" stroke-width="0.3"/>
<path d="M407.22,194.80L409.42,198.65L405.02,198.65Z" fill="#1f77b4" stroke="#1f77b4" stroke-width="0.3"/>
<path d="M414.96,192.00L417.16,195.85L412.76,195.85Z" fill="#1f77b4" stroke="#1f77b4" stroke-width="0.3"/>
<path d="M422.70,191.30L424.90,195.15L420.50,195.15Z" fill="#1f77b4" stroke="#1f77b4" stroke-width="0.3"/>
<path d="M430.44,193.10L432.64,196.95L428.24,196.95Z" fill="#1f77b4" stroke="#1f77b4" stroke-width="0.3"/>
<path d="M438.18,194.40L440.38,198.25L435.98,198.25Z" fill="#1f77b4" stroke="#1f77b4" stroke-width="0.3"/>
<path d="M445.92,196.00L448.12,199.85L443.72,199.85Z" fill="#1f77b4" stroke="#1f77b4" stroke-width="0.3"/>
<path d="M453.66,202.60L455.86,206.45L451.46,206.45Z" fill="#1f77b4" stroke="#1f77b4" stroke-width="0.3"/>
<path d="M461.40,209.10L463.60,212.95L459.20,212.95Z" fill="#1f77b4" stroke="#1f77b4" stroke-width="0.3"/>
<path d="M469.14,214.40L471.34,218.25L466.94,218.25Z" fill="#1f77b4" stroke="#1f77b4" stroke-width="0.3"/>
<path d="M476.88,218.80L479.08,222.65L474.68,222.65Z" fill="#1f77b4" stroke="#1f77b4" stroke-width="0.3"/>
<path d="M484.62,222.30L486.82,226.15L482.42,226.15Z" fill="#1f77b4" stroke="#1f77b4" stroke-width="0.3"/>
<path d="M306.60,229.80V233.20" stroke="#ff7f0e" stroke-width="0.8"/>
<path d="M314.34,233.80V237.20" stroke="#ff7f0e" stroke-width="0.8"/>
<path d="M322.08,237.80V241.20" stroke="#ff7f0e" stroke-width="0.8"/>
<path d="M329.82,241.60V245.00" stroke="#ff7f0e" stroke-width="0.8"/>
<path d="M337.56,244.80V248.20" stroke="#ff7f0e" stroke-width="0.8"/>
<path d="M345.30,247.90V251.30" stroke="#ff7f0e" stroke-width="0.8"/>
<path d="M353.04,251.30V254.70" stroke="#ff7f0e" stroke-width="0.8"/>
<path d="M360.78,245.80V249.20" stroke="#ff7f0e" stroke-width="0.8"/>
<path d="M368.52,240.10V243.50" stroke="#ff7f0e" stroke-width="0.8"/>
<path d="M376.26,233.30V236.70" stroke="#ff7f0e" stroke-width="0.8"/>
<path d="M384.00,225.60V229.00" stroke="#ff7f0e" stroke-width="0.8"/>
<path d="M391.74,217.10V220.50" stroke="#ff7f0e" stroke-width="0.8"/>
<path d="M399.48,208.30V211.70" stroke="#ff7f0e" stroke-width="0.8"/>
<path d="M407.22,200.80V204.20" stroke="#ff7f0e" stroke-width="0.8"/>
<path d="M414.96,194.30V197.70" stroke="#ff7f0e" stroke-width="0.8"/>
<path d="M422.70,190.10V193.50" stroke="#ff7f0e" stroke-width="0.8"/>
<path d="M430.44,189.30V192.70" stroke="#ff7f0e" stroke-width="0.8"/>
<path d="M438.18,189.60V193.00" stroke="#ff7f0e" stroke-width="0.8"/>
<path d="M445.92,191.80V195.20" stroke="#ff7f0e" stroke-width="0.8"/>
<path d="M453.66,199.90V203.30" stroke="#ff7f0e" stroke-width="0.8"/>
<path d="M461.40,207.20V210.60" stroke="#ff7f0e" stroke-width="0.8"/>
<path d="M469.14,213.50V216.90" stroke="#ff7f0e" stroke-width="0.8"/>
<path d="M476.88,218.80V222.20" stroke="#ff7f0e" stroke-width="0.8"/>
<path d="M484.62,224.50V227.90" stroke="#ff7f0e" stroke-width="0.8"/>
<path d="M305.80,230.90V234.10M307.40,230.90V234.10" stroke="#2ca02c" stroke-width="0.6"/>
<path d="M313.54,235.00V238.20M315.14,235.00V238.20" stroke="#2ca02c" stroke-width="0.6"/>
<path d="M321.28,239.20V242.40M322.88,239.20V242.40" stroke="#2ca02c" stroke-width="0.6"/>
<path d="M329.02,242.90V246.10M330.62,242.90V246.10" stroke="#2ca02c" stroke-width="0.6"/>
<path d="M336.76,246.40V249.60M338.36,246.40V249.60" stroke="#2ca02c" stroke-width="0.6"/>
<path d="M344.50,250.20V253.40M346.10,250.20V253.40" stroke="#2ca02c" stroke-width="0.6"/>
<path d="M352.24,254.20V257.40M353.84,254.20V257.40" stroke="#2ca02c" stroke-width="0.6"/>
<path d="M359.98,249.20V252.40M361.58,249.20V252.40" stroke="#2ca02c" stroke-width="0.6"/>
<path d="M367.72,243.90V247.10M369.32,243.90V247.10" stroke="#2ca02c" stroke-width="0.6"/>
<path d="M375.46,237.70V240.90M377.06,237.70V240.90" stroke="#2ca02c" stroke-width="0.6"/>
<path d="M383.20,230.70V233.90M384.80,230.70V233.90" stroke="#2ca02c" stroke-width="0.6"/>
<path d="M390.94,222.90V226.10M392.54,222.90V226.10" stroke="#2ca02c" stroke-width="0.6"/>
<path d="M398.68,214.80V218.00M400.28,214.80V218.00" stroke="#2ca02c" stroke-width="0.6"/>
<path d="M406.42,206.80V210.00M408.02,206.80V210.00" stroke="#2ca02c" stroke-width="0.6"/>
<path d="M414.16,198.80V202.00M415.76,198.80V202.00" stroke="#2ca02c" stroke-width="0.6"/>
<path d="M421.90,193.90V197.10M423.50,193.90V197.10" stroke="#2ca02c" stroke-width="0.6"/>
<path d="M429.64,192.40V195.60M431.24,192.40V195.60" stroke="#2ca02c" stroke-width="0.6"/>
<path d="M437.38,192.20V195.40M438.98,192.20V195.40" stroke="#2ca02c" stroke-width="0.6"/>
<path d="M445.12,193.30V196.50M446.72,193.30V196.50" stroke="#2ca02c" stroke-width="0.6"/>
<path d="M452.86,200.90V204.10M454.46,200.90V204.10" stroke="#2ca02c" stroke-width="0.6"/>
<path d="M460.60,208.00V211.20M462.20,208.00V211.20" stroke="#2ca02c" stroke-width="0.6"/>
<path d="M468.34,213.20V216.40M469.94,213.20V216.40" stroke="#2ca02c" stroke-width="0.6"/>
<path d="M476.08,218.50V221.70M477.68,218.50V221.70" stroke="#2ca02c" stroke-width="0.6"/>
<path d="M483.82,223.80V227.00M485.42,223.80V227.00" stroke="#2ca02c" stroke-width="0.6"/>
<circle cx="306.60" cy="233.80" r="1.6" fill="#cf7a8c" stroke="#a8303c" stroke-width="0.8"/>
<circle cx="314.34" cy="238.20" r="1.6" fill="#cf7a8c" stroke="#a8303c" stroke-width="0.8"/>
<circle cx="322.08" cy="242.50" r="1.6" fill="#cf7a8c" stroke="#a8303c" stroke-width="0.8"/>
<circle cx="329.82" cy="246.50" r="1.6" fill="#cf7a8c" stroke="#a8303c" stroke-width="0.8"/>
<circle cx="337.56" cy="250.30" r="1.6" fill="#cf7a8c" stroke="#a8303c" stroke-width="0.8"/>
<circle cx="345.30" cy="253.80" r="1.6" fill="#cf7a8c" stroke="#a8303c" stroke-width="0.8"/>
<circle cx="353.04" cy="257.30" r="1.6" fill="#cf7a8c" stroke="#a8303c" stroke-width="0.8"/>
<circle cx="360.78" cy="252.50" r="1.6" fill="#cf7a8c" stroke="#a8303c" stroke-width="0.8"/>
<circle cx="368.52" cy="247.20" r="1.6" fill="#cf7a8c" stroke="#a8303c" stroke-width="0.8"/>
<circle cx="376.26" cy="241.50" r="1.6" fill="#cf7a8c" stroke="#a8303c" stroke-width="0.8"/>
<circle cx="384.00" cy="234.70" r="1.6" fill="#cf7a8c" stroke="#a8303c" stroke-width="0.8"/>
<circle cx="391.74" cy="227.00" r="1.6" fill="#cf7a8c" stroke="#a8303c" stroke-width="0.8"/>
<circle cx="399.48" cy="220.00" r="1.6" fill="#cf7a8c" stroke="#a8303c" stroke-width="0.8"/>
<circle cx="407.22" cy="211.30" r="1.6" fill="#cf7a8c" stroke="#a8303c" stroke-width="0.8"/>
<circle cx="414.96" cy="203.30" r="1.6" fill="#cf7a8c" stroke="#a8303c" stroke-width="0.8"/>
<circle cx="422.70" cy="197.90" r="1.6" fill="#cf7a8c" stroke="#a8303c" stroke-width="0.8"/>
<circle cx="430.44" cy="196.00" r="1.6" fill="#cf7a8c" stroke="#a8303c" stroke-width="0.8"/>
<circle cx="438.18" cy="196.00" r="1.6" fill="#cf7a8c" stroke="#a8303c" stroke-width="0.8"/>
<circle cx="445.92" cy="197.00" r="1.6" fill="#cf7a8c" stroke="#a8303c" stroke-width="0.8"/>
<circle cx="453.66" cy="204.50" r="1.6" fill="#cf7a8c" stroke="#a8303c" stroke-width="0.8"/>
<circle cx="461.40" cy="211.20" r="1.6" fill="#cf7a8c" stroke="#a8303c" stroke-width="0.8"/>
<circle cx="469.14" cy="217.20" r="1.6" fill="#cf7a8c" stroke="#a8303c" stroke-width="0.8"/>
<circle cx="476.88" cy="221.80" r="1.6" fill="#cf7a8c" stroke="#a8303c" stroke-width="0.8"/>
<circle cx="484.62" cy="227.10" r="1.6" fill="#cf7a8c" stroke="#a8303c" stroke-width="0.8"/>
<path d="M304.80,234.34L308.40,234.34L306.60,237.40Z" fill="#9467bd"/>
<path d="M312.54,238.75L316.14,238.75L314.34,241.81Z" fill="#9467bd"/>
<path d="M320.28,243.06L323.88,243.06L322.08,246.12Z" fill="#9467bd"/>
<path d="M328.02,247.07L331.62,247.07L329.82,250.13Z" fill="#9467bd"/>
<path d="M335.76,250.87L339.36,250.87L337.56,253.93Z" fill="#9467bd"/>
<path d="M343.50,254.38L347.10,254.38L345.30,257.44Z" fill="#9467bd"/>
<path d="M351.24,257.89L354.84,257.89L353.04,260.95Z" fill="#9467bd"/>
<path d="M358.98,253.10L362.58,253.10L360.78,256.16Z" fill="#9467bd"/>
<path d="M366.72,247.81L370.32,247.81L368.52,250.87Z" fill="#9467bd"/>
<path d="M374.46,242.12L378.06,242.12L376.26,245.18Z" fill="#9467bd"/>
<path d="M382.20,235.33L385.80,235.33L384.00,238.39Z" fill="#9467bd"/>
<path d="M389.94,227.64L393.54,227.64L391.74,230.70Z" fill="#9467bd"/>
<path d="M397.68,220.64L401.28,220.64L399.48,223.70Z" fill="#9467bd"/>
<path d="M405.42,211.95L409.02,211.95L407.22,215.01Z" fill="#9467bd"/>
<path d="M413.16,203.96L416.76,203.96L414.96,207.02Z" fill="#9467bd"/>
<path d="M420.90,198.57L424.50,198.57L422.70,201.63Z" fill="#9467bd"/>
<path d="M428.64,196.68L432.24,196.68L430.44,199.74Z" fill="#9467bd"/>
<path d="M436.38,196.69L439.98,196.69L438.18,199.75Z" fill="#9467bd"/>
<path d="M444.12,197.70L447.72,197.70L445.92,200.76Z" fill="#9467bd"/>
<path d="M451.86,205.21L455.46,205.21L453.66,208.27Z" fill="#9467bd"/>
<path d="M459.60,211.91L463.20,211.91L461.40,214.97Z" fill="#9467bd"/>
<path d="M467.34,217.92L470.94,217.92L469.14,220.98Z" fill="#9467bd"/>
<path d="M475.08,222.53L478.68,222.53L476.88,225.59Z" fill="#9467bd"/>
<path d="M482.82,227.84L486.42,227.84L484.62,230.90Z" fill="#9467bd"/>
<rect x="305.20" y="236.80" width="2.8" height="2.8" fill="#8c564b"/>
<rect x="312.94" y="241.40" width="2.8" height="2.8" fill="#8c564b"/>
<rect x="320.68" y="245.90" width="2.8" height="2.8" fill="#8c564b"/>
<rect x="328.42" y="250.10" width="2.8" height="2.8" fill="#8c564b"/>
<rect x="336.16" y="254.10" width="2.8" height="2.8" fill="#8c564b"/>
<rect x="343.90" y="258.20" width="2.8" height="2.8" fill="#8c564b"/>
<rect x="351.64" y="262.80" width="2.8" height="2.8" fill="#8c564b"/>
<rect x="359.38" y="258.90" width="2.8" height="2.8" fill="#8c564b"/>
<rect x="367.12" y="252.70" width="2.8" height="2.8" fill="#8c564b"/>
<rect x="374.86" y="246.60" width="2.8" height="2.8" fill="#8c564b"/>
<rect x="382.60" y="239.40" width="2.8" height="2.8" fill="#8c564b"/>
<rect x="390.34" y="231.20" width="2.8" height="2.8" fill="#8c564b"/>
<rect x="398.08" y="222.30" width="2.8" height="2.8" fill="#8c564b"/>
<rect x="405.82" y="213.60" width="2.8" height="2.8" fill="#8c564b"/>
<rect x="413.56" y="205.10" width="2.8" height="2.8" fill="#8c564b"/>
<rect x="421.30" y="200.80" width="2.8" height="2.8" fill="#8c564b"/>
<rect x="429.04" y="199.20" width="2.8" height="2.8" fill="#8c564b"/>
<rect x="436.78" y="199.40" width="2.8" height="2.8" fill="#8c564b"/>
<rect x="444.52" y="200.40" width="2.8" height="2.8" fill="#8c564b"/>
<rect x="452.26" y="206.40" width="2.8" height="2.8" fill="#8c564b"/>
<rect x="460.00" y="213.40" width="2.8" height="2.8" fill="#8c564b"/>
<rect x="467.74" y="219.60" width="2.8" height="2.8" fill="#8c564b"/>
<rect x="475.48" y="224.80" width="2.8" height="2.8" fill="#8c564b"/>
<rect x="483.22" y="230.90" width="2.8" height="2.8" fill="#8c564b"/>
<circle cx="306.60" cy="245.00" r="1.6" fill="#e377c2"/>
<circle cx="314.34" cy="249.80" r="1.6" fill="#e377c2"/>
<circle cx="322.08" cy="254.00" r="1.6" fill="#e377c2"/>
<circle cx="329.82" cy="258.00" r="1.6" fill="#e377c2"/>
<circle cx="337.56" cy="261.50" r="1.6" fill="#e377c2"/>
<circle cx="345.30" cy="265.60" r="1.6" fill="#e377c2"/>
<circle cx="353.04" cy="269.50" r="1.6" fill="#e377c2"/>
<circle cx="360.78" cy="265.40" r="1.6" fill="#e377c2"/>
<circle cx="368.52" cy="260.50" r="1.6" fill="#e377c2"/>
<circle cx="376.26" cy="255.50" r="1.6" fill="#e377c2"/>
<circle cx="384.00" cy="248.50" r="1.6" fill="#e377c2"/>
<circle cx="391.74" cy="239.50" r="1.6" fill="#e377c2"/>
<circle cx="399.48" cy="229.60" r="1.6" fill="#e377c2"/>
<circle cx="407.22" cy="221.50" r="1.6" fill="#e377c2"/>
<circle cx="414.96" cy="214.00" r="1.6" fill="#e377c2"/>
<circle cx="422.70" cy="210.50" r="1.6" fill="#e377c2"/>
<circle cx="430.44" cy="208.20" r="1.6" fill="#e377c2"/>
<circle cx="438.18" cy="208.00" r="1.6" fill="#e377c2"/>
<circle cx="445.92" cy="209.60" r="1.6" fill="#e377c2"/>
<circle cx="453.66" cy="216.60" r="1.6" fill="#e377c2"/>
<circle cx="461.40" cy="223.00" r="1.6" fill="#e377c2"/>
<circle cx="469.14" cy="229.00" r="1.6" fill="#e377c2"/>
<circle cx="476.88" cy="234.10" r="1.6" fill="#e377c2"/>
<circle cx="484.62" cy="239.60" r="1.6" fill="#e377c2"/>
<path d="M298.90,307.80L300.00,309.40L298.90,311.00L297.80,309.40Z" fill="#6a6a6a"/>
<path d="M306.64,309.60L307.74,311.20L306.64,312.80L305.54,311.20Z" fill="#6a6a6a"/>
<path d="M314.38,311.00L315.48,312.60L314.38,314.20L313.28,312.60Z" fill="#6a6a6a"/>
<path d="M322.12,312.40L323.22,314.00L322.12,315.60L321.02,314.00Z" fill="#6a6a6a"/>
<path d="M329.86,313.10L330.96,314.70L329.86,316.30L328.76,314.70Z" fill="#6a6a6a"/>
<path d="M337.60,313.80L338.70,315.40L337.60,317.00L336.50,315.40Z" fill="#6a6a6a"/>
<path d="M345.34,314.10L346.44,315.70L345.34,317.30L344.24,315.70Z" fill="#6a6a6a"/>
<path d="M353.08,313.80L354.18,315.40L353.08,317.00L351.98,315.40Z" fill="#6a6a6a"/>
<path d="M360.82,312.70L361.92,314.30L360.82,315.90L359.72,314.30Z" fill="#6a6a6a"/>
<path d="M368.56,310.30L369.66,311.90L368.56,313.50L367.46,311.90Z" fill="#6a6a6a"/>
<path d="M376.30,305.00L377.40,306.60L376.30,308.20L375.20,306.60Z" fill="#6a6a6a"/>
<path d="M384.04,299.80L385.14,301.40L384.04,303.00L382.94,301.40Z" fill="#6a6a6a"/>
<path d="M391.78,295.30L392.88,296.90L391.78,298.50L390.68,296.90Z" fill="#6a6a6a"/>
<path d="M399.52,292.50L400.62,294.10L399.52,295.70L398.42,294.10Z" fill="#6a6a6a"/>
<path d="M407.26,291.40L408.36,293.00L407.26,294.60L406.16,293.00Z" fill="#6a6a6a"/>
<path d="M415.00,291.80L416.10,293.40L415.00,295.00L413.90,293.40Z" fill="#6a6a6a"/>
<path d="M422.74,293.90L423.84,295.50L422.74,297.10L421.64,295.50Z" fill="#6a6a6a"/>
<path d="M430.48,297.00L431.58,298.60L430.48,300.20L429.38,298.60Z" fill="#6a6a6a"/>
<path d="M438.22,299.50L439.32,301.10L438.22,302.70L437.12,301.10Z" fill="#6a6a6a"/>
<path d="M445.96,301.20L447.06,302.80L445.96,304.40L444.86,302.80Z" fill="#6a6a6a"/>
<path d="M453.70,302.60L454.80,304.20L453.70,305.80L452.60,304.20Z" fill="#6a6a6a"/>
<path d="M461.44,303.70L462.54,305.30L461.44,306.90L460.34,305.30Z" fill="#6a6a6a"/>
<path d="M469.18,304.70L470.28,306.30L469.18,307.90L468.08,306.30Z" fill="#6a6a6a"/>
<path d="M476.92,306.80L478.02,308.40L476.92,310.00L475.82,308.40Z" fill="#6a6a6a"/>
<rect x="298.50" y="185.10" width="190.10" height="137.70" fill="none" stroke="#333" stroke-width="1"/>
<line x1="296.90" y1="302.30" x2="298.50" y2="302.30" stroke="#333" stroke-width="0.8"/>
<text x="295.80" y="304.50" text-anchor="end" class="tk">5</text>
<line x1="296.90" y1="264.90" x2="298.50" y2="264.90" stroke="#333" stroke-width="0.8"/>
<text x="295.80" y="267.10" text-anchor="end" class="tk">10</text>
<line x1="296.90" y1="227.70" x2="298.50" y2="227.70" stroke="#333" stroke-width="0.8"/>
<text x="295.80" y="229.90" text-anchor="end" class="tk">15</text>
<line x1="296.90" y1="190.80" x2="298.50" y2="190.80" stroke="#333" stroke-width="0.8"/>
<text x="295.80" y="193.00" text-anchor="end" class="tk">20</text>
<line x1="306.60" y1="322.80" x2="306.60" y2="324.40" stroke="#333" stroke-width="0.8"/>
<text x="299.80" y="329.40" text-anchor="middle" class="tk" style="font-size:5.75px">00:00</text>
<line x1="353.04" y1="322.80" x2="353.04" y2="324.40" stroke="#333" stroke-width="0.8"/>
<text x="346.24" y="329.40" text-anchor="middle" class="tk" style="font-size:5.75px">06:00</text>
<line x1="399.48" y1="322.80" x2="399.48" y2="324.40" stroke="#333" stroke-width="0.8"/>
<text x="392.68" y="329.40" text-anchor="middle" class="tk" style="font-size:5.75px">12:00</text>
<line x1="445.92" y1="322.80" x2="445.92" y2="324.40" stroke="#333" stroke-width="0.8"/>
<text x="439.12" y="329.40" text-anchor="middle" class="tk" style="font-size:5.75px">18:00</text>
<line x1="484.62" y1="322.80" x2="484.62" y2="324.40" stroke="#333" stroke-width="0.8"/>
<text x="477.82" y="329.40" text-anchor="middle" class="tk" style="font-size:5.75px">23:00</text>
<text x="393.55" y="337.30" text-anchor="middle" class="ax">Hour of Day</text>
<text transform="translate(286.20,253.50) rotate(-90)" text-anchor="middle" class="ay" textLength="45.5" lengthAdjust="spacingAndGlyphs">Temperature (C)</text>
<text x="298.70" y="179.60" class="ti">Winter</text>
<rect x="499.30" y="217.70" width="11" height="79.60" fill="#f2f2f2"/>
<line x1="500.00" y1="223.20" x2="509.30" y2="223.20" stroke="#1f77b4" stroke-width="1.9"/>
<path d="M504.70,220.90L507.00,224.92L502.40,224.92Z" fill="#1f77b4"/>
<text x="513.70" y="225.30" class="lg">Ground floor</text>
<line x1="500.00" y1="233.37" x2="509.30" y2="233.37" stroke="#ff7f0e" stroke-width="1.9"/>
<path d="M504.70,231.16V235.58" stroke="#ff7f0e" stroke-width="0.8"/>
<text x="513.70" y="235.47" class="lg">First floor</text>
<line x1="500.00" y1="243.54" x2="509.30" y2="243.54" stroke="#2ca02c" stroke-width="1.9"/>
<path d="M503.90,241.46V245.62M505.50,241.46V245.62" stroke="#2ca02c" stroke-width="0.6"/>
<text x="513.70" y="245.64" class="lg">Second floor</text>
<line x1="500.00" y1="253.71" x2="509.30" y2="253.71" stroke="#d62728" stroke-width="1.9"/>
<path d="M504.70,251.41L507.00,253.71L504.70,256.01L502.40,253.71Z" fill="#d62728"/>
<text x="513.70" y="255.81" class="lg">Third floor</text>
<line x1="500.00" y1="263.88" x2="509.30" y2="263.88" stroke="#9467bd" stroke-width="1.9"/>
<path d="M502.36,262.24L507.04,262.24L504.70,266.22Z" fill="#9467bd"/>
<text x="513.70" y="265.98" class="lg">Fourth floor</text>
<line x1="500.00" y1="274.05" x2="509.30" y2="274.05" stroke="#8c564b" stroke-width="1.9"/>
<rect x="502.88" y="272.23" width="3.6399999999999997" height="3.6399999999999997" fill="#8c564b"/>
<text x="513.70" y="276.15" class="lg">Fifth floor</text>
<line x1="500.00" y1="284.22" x2="509.30" y2="284.22" stroke="#e377c2" stroke-width="1.9"/>
<circle cx="504.70" cy="284.22" r="2.08" fill="#e377c2"/>
<text x="513.70" y="286.32" class="lg">Sixth floor</text>
<line x1="500.00" y1="294.39" x2="509.30" y2="294.39" stroke="#7f7f7f" stroke-width="1.9"/>
<path d="M504.70,292.29L506.80,294.39L504.70,296.49L502.60,294.39Z" fill="#7f7f7f"/>
<text x="513.70" y="296.49" class="lg">Outdoor</text>
</svg>
</body></html>
